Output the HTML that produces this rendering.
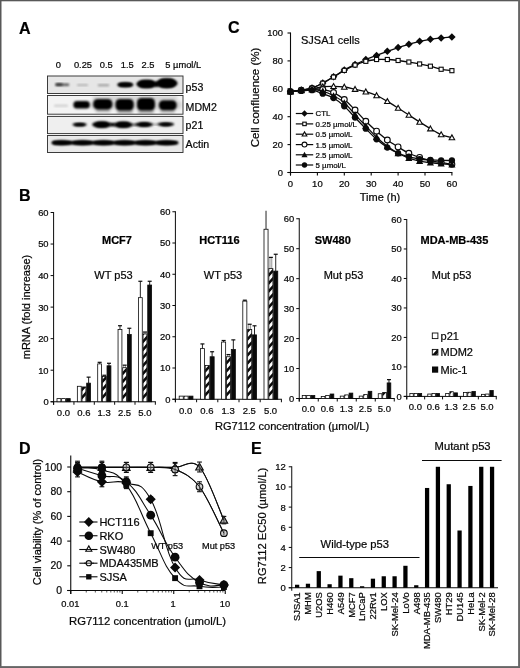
<!DOCTYPE html><html><head><meta charset="utf-8"><title>Figure</title><style>html,body{margin:0;padding:0;background:#fff}svg{display:block}text{font-family:"Liberation Sans",Arial,Helvetica,sans-serif;stroke:#000;stroke-width:.22px}</style></head><body>
<svg width="520" height="668" viewBox="0 0 520 668">
<defs><filter id="bl" x="-20%" y="-50%" width="140%" height="200%"><feGaussianBlur stdDeviation="0.9"/></filter><filter id="bl2" x="-20%" y="-50%" width="140%" height="200%"><feGaussianBlur stdDeviation="1.6"/></filter><pattern id="hat" width="5.7" height="5.7" patternUnits="userSpaceOnUse" patternTransform="rotate(-48)"><rect width="5.7" height="5.7" fill="#fff"/><rect width="5.7" height="3.1" fill="#0a0a0a"/></pattern></defs>
<rect width="520" height="668" fill="#fff"/>
<rect x="0" y="0" width="520" height="1.3" fill="#585858"/>
<rect x="0" y="0" width="1.5" height="668" fill="#585858"/>
<rect x="518.1" y="0" width="1.9" height="668" fill="#666"/>
<rect x="0" y="666.1" width="520" height="1.9" fill="#666"/>
<text transform="translate(19.1 33.5) scale(0.97 1)" font-size="16.6" font-weight="bold" fill="#000" stroke="#000" stroke-width="0.5" stroke-linejoin="round">A</text>
<text transform="translate(18.9 201.4) scale(0.97 1)" font-size="16.6" font-weight="bold" fill="#000" stroke="#000" stroke-width="0.5" stroke-linejoin="round">B</text>
<text transform="translate(227.9 33.2) scale(0.97 1)" font-size="16.6" font-weight="bold" fill="#000" stroke="#000" stroke-width="0.5" stroke-linejoin="round">C</text>
<text transform="translate(18.9 454.2) scale(0.97 1)" font-size="16.6" font-weight="bold" fill="#000" stroke="#000" stroke-width="0.5" stroke-linejoin="round">D</text>
<text transform="translate(251 454.4) scale(0.97 1)" font-size="16.6" font-weight="bold" fill="#000" stroke="#000" stroke-width="0.5" stroke-linejoin="round">E</text>
<text x="58.4" y="68.2" font-size="9.3" text-anchor="middle" stroke="none" fill="#0a0a0a">0</text>
<text x="83" y="68.2" font-size="9.3" text-anchor="middle" stroke="none" fill="#0a0a0a">0.25</text>
<text x="106.2" y="68.2" font-size="9.3" text-anchor="middle" stroke="none" fill="#0a0a0a">0.5</text>
<text x="127.2" y="68.2" font-size="9.3" text-anchor="middle" stroke="none" fill="#0a0a0a">1.5</text>
<text x="148" y="68.2" font-size="9.3" text-anchor="middle" stroke="none" fill="#0a0a0a">2.5</text>
<text x="165.3" y="68.2" font-size="9.3" text-anchor="start" stroke="none" fill="#0a0a0a">5 µmol/L</text>
<clipPath id="cA"><rect x="47.5" y="76" width="135.5" height="76.5"/></clipPath>
<rect x="47.50" y="76.00" width="135.50" height="17.50" fill="#e6e6e6"/>
<rect x="47.50" y="95.50" width="135.50" height="18.70" fill="#f3f3f3"/>
<rect x="47.50" y="116.40" width="135.50" height="17.20" fill="#efefef"/>
<rect x="47.50" y="135.50" width="135.50" height="17.00" fill="#eaeaea"/>
<g clip-path="url(#cA)">
<rect x="55.30" y="83.55" width="14.00" height="2.50" rx="1.25" fill="#000" opacity="0.62" filter="url(#bl)"/>
<rect x="55.50" y="83.25" width="7.00" height="2.50" rx="1.25" fill="#000" opacity="0.6" filter="url(#bl)"/>
<rect x="77.00" y="84.30" width="11.00" height="1.80" rx="0.90" fill="#000" opacity="0.25" filter="url(#bl)"/>
<rect x="97.75" y="84.20" width="11.50" height="2.00" rx="1.00" fill="#000" opacity="0.33" filter="url(#bl)"/>
<ellipse cx="125.30" cy="84.70" rx="8.25" ry="2.50" fill="#000" opacity="1" filter="url(#bl)"/>
<rect x="118.80" y="83.00" width="13.00" height="3.40" rx="1.70" fill="#000" opacity="1" filter="url(#bl)"/>
<ellipse cx="146.50" cy="84.00" rx="10.25" ry="4.30" fill="#000" opacity="1" filter="url(#bl)"/>
<rect x="139.00" y="80.70" width="15.00" height="6.60" rx="3.30" fill="#000" opacity="1" filter="url(#bl)"/>
<ellipse cx="166.80" cy="83.20" rx="10.75" ry="5.00" fill="#000" opacity="1" filter="url(#bl)"/>
<rect x="158.80" y="79.20" width="16.00" height="8.00" rx="4.00" fill="#000" opacity="1" filter="url(#bl)"/>
<rect x="153.50" y="81.70" width="6.00" height="5.00" rx="2.50" fill="#000" opacity="1" filter="url(#bl)"/>
<rect x="54.00" y="104.80" width="14.00" height="2.00" rx="1.00" fill="#000" opacity="0.16" filter="url(#bl)"/>
<rect x="73.35" y="101.10" width="16.50" height="7.40" rx="3.5" fill="#000" opacity="1" filter="url(#bl)"/>
<rect x="93.20" y="99.00" width="19.20" height="10.40" rx="4.5" fill="#000" opacity="1" filter="url(#bl)"/>
<rect x="115.45" y="99.00" width="18.30" height="11.60" rx="4.5" fill="#000" opacity="1" filter="url(#bl)"/>
<rect x="137.00" y="98.00" width="18.00" height="12.60" rx="4.5" fill="#000" opacity="1" filter="url(#bl)"/>
<rect x="158.90" y="100.20" width="17.80" height="10.00" rx="4.5" fill="#000" opacity="1" filter="url(#bl)"/>
<rect x="95.50" y="109.10" width="15.00" height="3.00" rx="1.50" fill="#000" opacity="0.3" filter="url(#bl2)"/>
<rect x="117.00" y="109.90" width="16.00" height="3.00" rx="1.50" fill="#000" opacity="0.4" filter="url(#bl2)"/>
<rect x="138.00" y="109.90" width="16.00" height="3.00" rx="1.50" fill="#000" opacity="0.4" filter="url(#bl2)"/>
<rect x="160.00" y="109.70" width="15.00" height="3.00" rx="1.50" fill="#000" opacity="0.3" filter="url(#bl2)"/>
<rect x="92.50" y="96.50" width="85.00" height="3.00" rx="1.50" fill="#000" opacity="0.16" filter="url(#bl2)"/>
<rect x="90.00" y="100.50" width="92.00" height="9.00" rx="4.50" fill="#000" opacity="0.13" filter="url(#bl2)"/>
<ellipse cx="79.60" cy="124.60" rx="7.25" ry="1.90" fill="#000" opacity="1" filter="url(#bl)"/>
<rect x="75.10" y="123.60" width="9.00" height="2.00" rx="1.00" fill="#000" opacity="1" filter="url(#bl)"/>
<ellipse cx="101.80" cy="124.60" rx="9.75" ry="3.30" fill="#000" opacity="1" filter="url(#bl)"/>
<ellipse cx="123.30" cy="124.70" rx="9.75" ry="3.20" fill="#000" opacity="1" filter="url(#bl)"/>
<rect x="109.50" y="123.10" width="6.00" height="3.20" rx="1.60" fill="#000" opacity="1" filter="url(#bl)"/>
<ellipse cx="144.20" cy="124.50" rx="9.00" ry="2.60" fill="#000" opacity="1" filter="url(#bl)"/>
<ellipse cx="165.80" cy="124.30" rx="8.50" ry="2.10" fill="#000" opacity="1" filter="url(#bl)"/>
<rect x="132.00" y="123.70" width="5.00" height="2.00" rx="1.00" fill="#000" opacity="0.7" filter="url(#bl)"/>
<rect x="153.00" y="123.65" width="5.00" height="1.50" rx="0.75" fill="#000" opacity="0.45" filter="url(#bl)"/>
<rect x="95.80" y="122.40" width="12.00" height="4.40" rx="2.20" fill="#000" opacity="1" filter="url(#bl)"/>
<rect x="117.30" y="122.60" width="12.00" height="4.20" rx="2.10" fill="#000" opacity="1" filter="url(#bl)"/>
<rect x="139.20" y="123.00" width="10.00" height="3.00" rx="1.50" fill="#000" opacity="1" filter="url(#bl)"/>
<rect x="161.30" y="123.20" width="9.00" height="2.20" rx="1.10" fill="#000" opacity="1" filter="url(#bl)"/>
<rect x="52.50" y="140.90" width="126.00" height="3.60" rx="1.80" fill="#000" opacity="1" filter="url(#bl)"/>
<ellipse cx="61.50" cy="142.70" rx="10.25" ry="2.50" fill="#000" opacity="1" filter="url(#bl)"/>
<ellipse cx="82.50" cy="142.70" rx="10.25" ry="2.50" fill="#000" opacity="1" filter="url(#bl)"/>
<ellipse cx="103.50" cy="142.70" rx="10.25" ry="2.50" fill="#000" opacity="1" filter="url(#bl)"/>
<ellipse cx="124.50" cy="142.70" rx="10.25" ry="2.50" fill="#000" opacity="1" filter="url(#bl)"/>
<ellipse cx="145.50" cy="142.70" rx="10.25" ry="2.50" fill="#000" opacity="1" filter="url(#bl)"/>
<ellipse cx="166.50" cy="142.70" rx="10.25" ry="2.50" fill="#000" opacity="1" filter="url(#bl)"/>
</g>
<rect x="47.50" y="76.00" width="135.50" height="17.50" fill="none" stroke="#333" stroke-width="0.95"/>
<rect x="47.50" y="95.50" width="135.50" height="18.70" fill="none" stroke="#333" stroke-width="0.95"/>
<rect x="47.50" y="116.40" width="135.50" height="17.20" fill="none" stroke="#333" stroke-width="0.95"/>
<rect x="47.50" y="135.50" width="135.50" height="17.00" fill="none" stroke="#333" stroke-width="0.95"/>
<text x="185.6" y="91.4" font-size="10.6" text-anchor="start" fill="#0a0a0a">p53</text>
<text x="185.6" y="110.8" font-size="10.6" text-anchor="start" fill="#0a0a0a">MDM2</text>
<text x="185.6" y="129.4" font-size="10.6" text-anchor="start" fill="#0a0a0a">p21</text>
<text x="185.6" y="148" font-size="10.6" text-anchor="start" fill="#0a0a0a">Actin</text>
<line x1="290.50" y1="32.50" x2="290.50" y2="175.50" stroke="#0a0a0a" stroke-width="1.1"/>
<line x1="287.50" y1="172.50" x2="452.40" y2="172.50" stroke="#0a0a0a" stroke-width="1.1"/>
<line x1="287.50" y1="172.50" x2="290.50" y2="172.50" stroke="#0a0a0a" stroke-width="1.1"/>
<text x="282.9" y="175.9" font-size="9.4" text-anchor="end" stroke="none" fill="#0a0a0a">0</text>
<line x1="287.50" y1="144.60" x2="290.50" y2="144.60" stroke="#0a0a0a" stroke-width="1.1"/>
<text x="282.9" y="148.0" font-size="9.4" text-anchor="end" stroke="none" fill="#0a0a0a">20</text>
<line x1="287.50" y1="116.70" x2="290.50" y2="116.70" stroke="#0a0a0a" stroke-width="1.1"/>
<text x="282.9" y="120.10000000000001" font-size="9.4" text-anchor="end" stroke="none" fill="#0a0a0a">40</text>
<line x1="287.50" y1="88.80" x2="290.50" y2="88.80" stroke="#0a0a0a" stroke-width="1.1"/>
<text x="282.9" y="92.2" font-size="9.4" text-anchor="end" stroke="none" fill="#0a0a0a">60</text>
<line x1="287.50" y1="60.90" x2="290.50" y2="60.90" stroke="#0a0a0a" stroke-width="1.1"/>
<text x="282.9" y="64.30000000000001" font-size="9.4" text-anchor="end" stroke="none" fill="#0a0a0a">80</text>
<line x1="287.50" y1="33.00" x2="290.50" y2="33.00" stroke="#0a0a0a" stroke-width="1.1"/>
<text x="282.9" y="36.4" font-size="9.4" text-anchor="end" stroke="none" fill="#0a0a0a">100</text>
<line x1="290.50" y1="172.50" x2="290.50" y2="175.50" stroke="#0a0a0a" stroke-width="1.1"/>
<text x="290.5" y="187.2" font-size="9.5" text-anchor="middle" stroke="none" fill="#0a0a0a">0</text>
<line x1="317.40" y1="172.50" x2="317.40" y2="175.50" stroke="#0a0a0a" stroke-width="1.1"/>
<text x="317.4" y="187.2" font-size="9.5" text-anchor="middle" stroke="none" fill="#0a0a0a">10</text>
<line x1="344.30" y1="172.50" x2="344.30" y2="175.50" stroke="#0a0a0a" stroke-width="1.1"/>
<text x="344.3" y="187.2" font-size="9.5" text-anchor="middle" stroke="none" fill="#0a0a0a">20</text>
<line x1="371.20" y1="172.50" x2="371.20" y2="175.50" stroke="#0a0a0a" stroke-width="1.1"/>
<text x="371.2" y="187.2" font-size="9.5" text-anchor="middle" stroke="none" fill="#0a0a0a">30</text>
<line x1="398.10" y1="172.50" x2="398.10" y2="175.50" stroke="#0a0a0a" stroke-width="1.1"/>
<text x="398.1" y="187.2" font-size="9.5" text-anchor="middle" stroke="none" fill="#0a0a0a">40</text>
<line x1="425.00" y1="172.50" x2="425.00" y2="175.50" stroke="#0a0a0a" stroke-width="1.1"/>
<text x="425.0" y="187.2" font-size="9.5" text-anchor="middle" stroke="none" fill="#0a0a0a">50</text>
<line x1="451.90" y1="172.50" x2="451.90" y2="175.50" stroke="#0a0a0a" stroke-width="1.1"/>
<text x="451.9" y="187.2" font-size="9.5" text-anchor="middle" stroke="none" fill="#0a0a0a">60</text>
<text x="380" y="201" font-size="11" text-anchor="middle" fill="#0a0a0a">Time (h)</text>
<text x="259" y="97.5" font-size="11.5" text-anchor="middle" transform="rotate(-90 259 97.5)" fill="#0a0a0a">Cell confluence (%)</text>
<text x="301" y="43.8" font-size="11" text-anchor="start" fill="#0a0a0a">SJSA1 cells</text>
<path d="M290.50 91.59C292.29 91.36 297.67 90.78 301.26 90.19C304.85 89.61 308.43 89.31 312.02 88.10C315.61 86.89 319.19 84.82 322.78 82.94C326.37 81.06 329.95 78.97 333.54 76.80C337.13 74.64 340.71 72.01 344.30 69.97C347.89 67.92 351.47 66.27 355.06 64.53C358.65 62.78 362.23 61.02 365.82 59.50C369.41 57.99 372.99 56.83 376.58 55.46C380.17 54.09 383.75 52.60 387.34 51.27C390.93 49.95 394.51 48.67 398.10 47.51C401.69 46.35 405.27 45.32 408.86 44.30C412.45 43.28 416.03 42.21 419.62 41.37C423.21 40.53 426.79 39.86 430.38 39.28C433.97 38.70 437.55 38.28 441.14 37.88C444.73 37.49 450.11 37.07 451.90 36.91" fill="none" stroke="#0a0a0a" stroke-width="1.3"/>
<path d="M290.50 87.84L294.25 91.59L290.50 95.34L286.75 91.59Z" fill="#0a0a0a"/>
<path d="M301.26 86.44L305.01 90.19L301.26 93.94L297.51 90.19Z" fill="#0a0a0a"/>
<path d="M312.02 84.35L315.77 88.10L312.02 91.85L308.27 88.10Z" fill="#0a0a0a"/>
<path d="M322.78 79.19L326.53 82.94L322.78 86.69L319.03 82.94Z" fill="#0a0a0a"/>
<path d="M333.54 73.05L337.29 76.80L333.54 80.55L329.79 76.80Z" fill="#0a0a0a"/>
<path d="M344.30 66.22L348.05 69.97L344.30 73.72L340.55 69.97Z" fill="#0a0a0a"/>
<path d="M355.06 60.78L358.81 64.53L355.06 68.28L351.31 64.53Z" fill="#0a0a0a"/>
<path d="M365.82 55.75L369.57 59.50L365.82 63.25L362.07 59.50Z" fill="#0a0a0a"/>
<path d="M376.58 51.71L380.33 55.46L376.58 59.21L372.83 55.46Z" fill="#0a0a0a"/>
<path d="M387.34 47.52L391.09 51.27L387.34 55.02L383.59 51.27Z" fill="#0a0a0a"/>
<path d="M398.10 43.76L401.85 47.51L398.10 51.26L394.35 47.51Z" fill="#0a0a0a"/>
<path d="M408.86 40.55L412.61 44.30L408.86 48.05L405.11 44.30Z" fill="#0a0a0a"/>
<path d="M419.62 37.62L423.37 41.37L419.62 45.12L415.87 41.37Z" fill="#0a0a0a"/>
<path d="M430.38 35.53L434.13 39.28L430.38 43.03L426.63 39.28Z" fill="#0a0a0a"/>
<path d="M441.14 34.13L444.89 37.88L441.14 41.63L437.39 37.88Z" fill="#0a0a0a"/>
<path d="M451.90 33.16L455.65 36.91L451.90 40.66L448.15 36.91Z" fill="#0a0a0a"/>
<path d="M290.50 91.59C292.29 91.36 297.67 90.78 301.26 90.19C304.85 89.61 308.43 89.26 312.02 88.10C315.61 86.94 319.19 85.06 322.78 83.22C326.37 81.38 329.95 79.22 333.54 77.08C337.13 74.94 340.71 72.39 344.30 70.39C347.89 68.39 351.47 66.60 355.06 65.08C358.65 63.57 362.23 62.25 365.82 61.32C369.41 60.39 372.99 59.81 376.58 59.50C380.17 59.20 383.75 59.34 387.34 59.50C390.93 59.67 394.51 60.06 398.10 60.48C401.69 60.90 405.27 61.43 408.86 62.02C412.45 62.60 416.03 63.27 419.62 63.97C423.21 64.67 426.79 65.32 430.38 66.20C433.97 67.08 437.55 68.53 441.14 69.27C444.73 70.01 450.11 70.43 451.90 70.66" fill="none" stroke="#0a0a0a" stroke-width="1.3"/>
<rect x="288.45" y="89.54" width="4.10" height="4.10" fill="#fff" stroke="#0a0a0a" stroke-width="1.1"/>
<rect x="299.21" y="88.14" width="4.10" height="4.10" fill="#fff" stroke="#0a0a0a" stroke-width="1.1"/>
<rect x="309.97" y="86.05" width="4.10" height="4.10" fill="#fff" stroke="#0a0a0a" stroke-width="1.1"/>
<rect x="320.73" y="81.17" width="4.10" height="4.10" fill="#fff" stroke="#0a0a0a" stroke-width="1.1"/>
<rect x="331.49" y="75.03" width="4.10" height="4.10" fill="#fff" stroke="#0a0a0a" stroke-width="1.1"/>
<rect x="342.25" y="68.34" width="4.10" height="4.10" fill="#fff" stroke="#0a0a0a" stroke-width="1.1"/>
<rect x="353.01" y="63.03" width="4.10" height="4.10" fill="#fff" stroke="#0a0a0a" stroke-width="1.1"/>
<rect x="363.77" y="59.27" width="4.10" height="4.10" fill="#fff" stroke="#0a0a0a" stroke-width="1.1"/>
<rect x="374.53" y="57.45" width="4.10" height="4.10" fill="#fff" stroke="#0a0a0a" stroke-width="1.1"/>
<rect x="385.29" y="57.45" width="4.10" height="4.10" fill="#fff" stroke="#0a0a0a" stroke-width="1.1"/>
<rect x="396.05" y="58.43" width="4.10" height="4.10" fill="#fff" stroke="#0a0a0a" stroke-width="1.1"/>
<rect x="406.81" y="59.97" width="4.10" height="4.10" fill="#fff" stroke="#0a0a0a" stroke-width="1.1"/>
<rect x="417.57" y="61.92" width="4.10" height="4.10" fill="#fff" stroke="#0a0a0a" stroke-width="1.1"/>
<rect x="428.33" y="64.15" width="4.10" height="4.10" fill="#fff" stroke="#0a0a0a" stroke-width="1.1"/>
<rect x="439.09" y="67.22" width="4.10" height="4.10" fill="#fff" stroke="#0a0a0a" stroke-width="1.1"/>
<rect x="449.85" y="68.61" width="4.10" height="4.10" fill="#fff" stroke="#0a0a0a" stroke-width="1.1"/>
<path d="M290.50 91.59C292.29 91.36 297.67 90.66 301.26 90.19C304.85 89.73 308.43 89.38 312.02 88.80C315.61 88.22 319.19 87.13 322.78 86.71C326.37 86.29 329.95 86.24 333.54 86.29C337.13 86.34 340.71 86.50 344.30 86.99C347.89 87.47 351.47 88.43 355.06 89.22C358.65 90.01 362.23 90.68 365.82 91.73C369.41 92.78 372.99 93.89 376.58 95.50C380.17 97.10 383.75 99.26 387.34 101.36C390.93 103.45 394.51 105.77 398.10 108.05C401.69 110.33 405.27 112.70 408.86 115.03C412.45 117.35 416.03 119.72 419.62 122.00C423.21 124.28 426.79 126.60 430.38 128.70C433.97 130.79 437.55 133.07 441.14 134.56C444.73 136.04 450.11 137.11 451.90 137.62" fill="none" stroke="#0a0a0a" stroke-width="1.3"/>
<path d="M290.50 88.84L293.25 93.79L287.75 93.79Z" fill="#fff" stroke="#0a0a0a" stroke-width="1.1" stroke-linejoin="miter"/>
<path d="M301.26 87.44L304.01 92.39L298.51 92.39Z" fill="#fff" stroke="#0a0a0a" stroke-width="1.1" stroke-linejoin="miter"/>
<path d="M312.02 86.05L314.77 91.00L309.27 91.00Z" fill="#fff" stroke="#0a0a0a" stroke-width="1.1" stroke-linejoin="miter"/>
<path d="M322.78 83.96L325.53 88.91L320.03 88.91Z" fill="#fff" stroke="#0a0a0a" stroke-width="1.1" stroke-linejoin="miter"/>
<path d="M333.54 83.54L336.29 88.49L330.79 88.49Z" fill="#fff" stroke="#0a0a0a" stroke-width="1.1" stroke-linejoin="miter"/>
<path d="M344.30 84.24L347.05 89.19L341.55 89.19Z" fill="#fff" stroke="#0a0a0a" stroke-width="1.1" stroke-linejoin="miter"/>
<path d="M355.06 86.47L357.81 91.42L352.31 91.42Z" fill="#fff" stroke="#0a0a0a" stroke-width="1.1" stroke-linejoin="miter"/>
<path d="M365.82 88.98L368.57 93.93L363.07 93.93Z" fill="#fff" stroke="#0a0a0a" stroke-width="1.1" stroke-linejoin="miter"/>
<path d="M376.58 92.75L379.33 97.70L373.83 97.70Z" fill="#fff" stroke="#0a0a0a" stroke-width="1.1" stroke-linejoin="miter"/>
<path d="M387.34 98.61L390.09 103.56L384.59 103.56Z" fill="#fff" stroke="#0a0a0a" stroke-width="1.1" stroke-linejoin="miter"/>
<path d="M398.10 105.30L400.85 110.25L395.35 110.25Z" fill="#fff" stroke="#0a0a0a" stroke-width="1.1" stroke-linejoin="miter"/>
<path d="M408.86 112.28L411.61 117.23L406.11 117.23Z" fill="#fff" stroke="#0a0a0a" stroke-width="1.1" stroke-linejoin="miter"/>
<path d="M419.62 119.25L422.37 124.20L416.87 124.20Z" fill="#fff" stroke="#0a0a0a" stroke-width="1.1" stroke-linejoin="miter"/>
<path d="M430.38 125.95L433.13 130.90L427.63 130.90Z" fill="#fff" stroke="#0a0a0a" stroke-width="1.1" stroke-linejoin="miter"/>
<path d="M441.14 131.81L443.89 136.76L438.39 136.76Z" fill="#fff" stroke="#0a0a0a" stroke-width="1.1" stroke-linejoin="miter"/>
<path d="M451.90 134.88L454.65 139.82L449.15 139.82Z" fill="#fff" stroke="#0a0a0a" stroke-width="1.1" stroke-linejoin="miter"/>
<path d="M290.50 91.59C292.29 91.36 297.67 90.66 301.26 90.19C304.85 89.73 308.43 88.92 312.02 88.80C315.61 88.68 319.19 88.87 322.78 89.50C326.37 90.13 329.95 90.89 333.54 92.57C337.13 94.24 340.71 96.64 344.30 99.54C347.89 102.45 351.47 106.38 355.06 110.00C358.65 113.63 362.23 117.77 365.82 121.30C369.41 124.84 372.99 128.09 376.58 131.21C380.17 134.32 383.75 137.37 387.34 140.00C390.93 142.62 394.51 144.76 398.10 146.97C401.69 149.18 405.27 151.51 408.86 153.25C412.45 154.99 416.03 156.18 419.62 157.43C423.21 158.69 426.79 159.95 430.38 160.78C433.97 161.62 437.55 161.87 441.14 162.46C444.73 163.04 450.11 163.97 451.90 164.27" fill="none" stroke="#0a0a0a" stroke-width="1.3"/>
<circle cx="290.50" cy="91.59" r="2.90" fill="#fff" stroke="#0a0a0a" stroke-width="1.1"/>
<circle cx="301.26" cy="90.19" r="2.90" fill="#fff" stroke="#0a0a0a" stroke-width="1.1"/>
<circle cx="312.02" cy="88.80" r="2.90" fill="#fff" stroke="#0a0a0a" stroke-width="1.1"/>
<circle cx="322.78" cy="89.50" r="2.90" fill="#fff" stroke="#0a0a0a" stroke-width="1.1"/>
<circle cx="333.54" cy="92.57" r="2.90" fill="#fff" stroke="#0a0a0a" stroke-width="1.1"/>
<circle cx="344.30" cy="99.54" r="2.90" fill="#fff" stroke="#0a0a0a" stroke-width="1.1"/>
<circle cx="355.06" cy="110.00" r="2.90" fill="#fff" stroke="#0a0a0a" stroke-width="1.1"/>
<circle cx="365.82" cy="121.30" r="2.90" fill="#fff" stroke="#0a0a0a" stroke-width="1.1"/>
<circle cx="376.58" cy="131.21" r="2.90" fill="#fff" stroke="#0a0a0a" stroke-width="1.1"/>
<circle cx="387.34" cy="140.00" r="2.90" fill="#fff" stroke="#0a0a0a" stroke-width="1.1"/>
<circle cx="398.10" cy="146.97" r="2.90" fill="#fff" stroke="#0a0a0a" stroke-width="1.1"/>
<circle cx="408.86" cy="153.25" r="2.90" fill="#fff" stroke="#0a0a0a" stroke-width="1.1"/>
<circle cx="419.62" cy="157.43" r="2.90" fill="#fff" stroke="#0a0a0a" stroke-width="1.1"/>
<circle cx="430.38" cy="160.78" r="2.90" fill="#fff" stroke="#0a0a0a" stroke-width="1.1"/>
<circle cx="441.14" cy="162.46" r="2.90" fill="#fff" stroke="#0a0a0a" stroke-width="1.1"/>
<circle cx="451.90" cy="164.27" r="2.90" fill="#fff" stroke="#0a0a0a" stroke-width="1.1"/>
<path d="M290.50 91.59C292.29 91.40 297.67 90.82 301.26 90.47C304.85 90.13 308.43 89.38 312.02 89.50C315.61 89.61 319.19 90.13 322.78 91.17C326.37 92.22 329.95 93.85 333.54 95.78C337.13 97.70 340.71 99.61 344.30 102.75C347.89 105.89 351.47 110.72 355.06 114.61C358.65 118.49 362.23 122.28 365.82 126.05C369.41 129.81 372.99 133.84 376.58 137.21C380.17 140.58 383.75 143.60 387.34 146.27C390.93 148.95 394.51 151.27 398.10 153.25C401.69 155.23 405.27 156.83 408.86 158.13C412.45 159.43 416.03 160.29 419.62 161.06C423.21 161.83 426.79 162.29 430.38 162.74C433.97 163.18 437.55 163.41 441.14 163.71C444.73 164.01 450.11 164.41 451.90 164.55" fill="none" stroke="#0a0a0a" stroke-width="1.3"/>
<path d="M290.50 87.99L294.10 94.47L286.90 94.47Z" fill="#0a0a0a"/>
<path d="M301.26 86.87L304.86 93.35L297.66 93.35Z" fill="#0a0a0a"/>
<path d="M312.02 85.90L315.62 92.38L308.42 92.38Z" fill="#0a0a0a"/>
<path d="M322.78 87.57L326.38 94.05L319.18 94.05Z" fill="#0a0a0a"/>
<path d="M333.54 92.18L337.14 98.66L329.94 98.66Z" fill="#0a0a0a"/>
<path d="M344.30 99.15L347.90 105.63L340.70 105.63Z" fill="#0a0a0a"/>
<path d="M355.06 111.01L358.66 117.49L351.46 117.49Z" fill="#0a0a0a"/>
<path d="M365.82 122.45L369.42 128.93L362.22 128.93Z" fill="#0a0a0a"/>
<path d="M376.58 133.61L380.18 140.09L372.98 140.09Z" fill="#0a0a0a"/>
<path d="M387.34 142.67L390.94 149.15L383.74 149.15Z" fill="#0a0a0a"/>
<path d="M398.10 149.65L401.70 156.13L394.50 156.13Z" fill="#0a0a0a"/>
<path d="M408.86 154.53L412.46 161.01L405.26 161.01Z" fill="#0a0a0a"/>
<path d="M419.62 157.46L423.22 163.94L416.02 163.94Z" fill="#0a0a0a"/>
<path d="M430.38 159.14L433.98 165.62L426.78 165.62Z" fill="#0a0a0a"/>
<path d="M441.14 160.11L444.74 166.59L437.54 166.59Z" fill="#0a0a0a"/>
<path d="M451.90 160.95L455.50 167.43L448.30 167.43Z" fill="#0a0a0a"/>
<path d="M290.50 91.59C292.29 91.47 297.67 91.12 301.26 90.89C304.85 90.66 308.43 89.73 312.02 90.19C315.61 90.66 319.19 92.38 322.78 93.68C326.37 94.98 329.95 95.91 333.54 98.01C337.13 100.10 340.71 102.98 344.30 106.24C347.89 109.49 351.47 113.79 355.06 117.54C358.65 121.28 362.23 125.07 365.82 128.70C369.41 132.32 372.99 136.16 376.58 139.30C380.17 142.44 383.75 145.20 387.34 147.53C390.93 149.85 394.51 151.71 398.10 153.25C401.69 154.78 405.27 155.74 408.86 156.74C412.45 157.74 416.03 158.71 419.62 159.25C423.21 159.78 426.79 159.76 430.38 159.94C433.97 160.13 437.55 160.27 441.14 160.36C444.73 160.46 450.11 160.48 451.90 160.50" fill="none" stroke="#0a0a0a" stroke-width="1.3"/>
<circle cx="290.50" cy="91.59" r="3.15" fill="#0a0a0a"/>
<circle cx="301.26" cy="90.89" r="3.15" fill="#0a0a0a"/>
<circle cx="312.02" cy="90.19" r="3.15" fill="#0a0a0a"/>
<circle cx="322.78" cy="93.68" r="3.15" fill="#0a0a0a"/>
<circle cx="333.54" cy="98.01" r="3.15" fill="#0a0a0a"/>
<circle cx="344.30" cy="106.24" r="3.15" fill="#0a0a0a"/>
<circle cx="355.06" cy="117.54" r="3.15" fill="#0a0a0a"/>
<circle cx="365.82" cy="128.70" r="3.15" fill="#0a0a0a"/>
<circle cx="376.58" cy="139.30" r="3.15" fill="#0a0a0a"/>
<circle cx="387.34" cy="147.53" r="3.15" fill="#0a0a0a"/>
<circle cx="398.10" cy="153.25" r="3.15" fill="#0a0a0a"/>
<circle cx="408.86" cy="156.74" r="3.15" fill="#0a0a0a"/>
<circle cx="419.62" cy="159.25" r="3.15" fill="#0a0a0a"/>
<circle cx="430.38" cy="159.94" r="3.15" fill="#0a0a0a"/>
<circle cx="441.14" cy="160.36" r="3.15" fill="#0a0a0a"/>
<circle cx="451.90" cy="160.50" r="3.15" fill="#0a0a0a"/>
<line x1="295.80" y1="113.50" x2="313.20" y2="113.50" stroke="#0a0a0a" stroke-width="1.2"/>
<path d="M304.50 110.31L307.69 113.50L304.50 116.69L301.31 113.50Z" fill="#0a0a0a"/>
<text x="315.5" y="116.4" font-size="7.9" text-anchor="start" stroke="none" fill="#0a0a0a">CTL</text>
<line x1="295.80" y1="123.90" x2="313.20" y2="123.90" stroke="#0a0a0a" stroke-width="1.2"/>
<rect x="302.76" y="122.16" width="3.48" height="3.48" fill="#fff" stroke="#0a0a0a" stroke-width="1.1"/>
<text x="315.5" y="126.80000000000001" font-size="7.9" text-anchor="start" stroke="none" fill="#0a0a0a">0.25 µmol/L</text>
<line x1="295.80" y1="134.20" x2="313.20" y2="134.20" stroke="#0a0a0a" stroke-width="1.2"/>
<path d="M304.50 131.86L306.84 136.07L302.16 136.07Z" fill="#fff" stroke="#0a0a0a" stroke-width="1.1" stroke-linejoin="miter"/>
<text x="315.5" y="137.1" font-size="7.9" text-anchor="start" stroke="none" fill="#0a0a0a">0.5 µmol/L</text>
<line x1="295.80" y1="144.60" x2="313.20" y2="144.60" stroke="#0a0a0a" stroke-width="1.2"/>
<circle cx="304.50" cy="144.60" r="2.46" fill="#fff" stroke="#0a0a0a" stroke-width="1.1"/>
<text x="315.5" y="147.5" font-size="7.9" text-anchor="start" stroke="none" fill="#0a0a0a">1.5 µmol/L</text>
<line x1="295.80" y1="154.80" x2="313.20" y2="154.80" stroke="#0a0a0a" stroke-width="1.2"/>
<path d="M304.50 151.74L307.56 157.25L301.44 157.25Z" fill="#0a0a0a"/>
<text x="315.5" y="157.70000000000002" font-size="7.9" text-anchor="start" stroke="none" fill="#0a0a0a">2.5 µmol/L</text>
<line x1="295.80" y1="165.00" x2="313.20" y2="165.00" stroke="#0a0a0a" stroke-width="1.2"/>
<circle cx="304.50" cy="165.00" r="2.68" fill="#0a0a0a"/>
<text x="315.5" y="167.9" font-size="7.9" text-anchor="start" stroke="none" fill="#0a0a0a">5 µmol/L</text>
<line x1="53.60" y1="212.00" x2="53.60" y2="404.75" stroke="#0a0a0a" stroke-width="1.0"/>
<line x1="50.60" y1="401.75" x2="155.85" y2="401.75" stroke="#0a0a0a" stroke-width="1.0"/>
<line x1="50.60" y1="401.75" x2="53.60" y2="401.75" stroke="#0a0a0a" stroke-width="1.0"/>
<text x="48.6" y="405.15" font-size="9.4" text-anchor="end" stroke="none" fill="#0a0a0a">0</text>
<line x1="50.60" y1="370.21" x2="53.60" y2="370.21" stroke="#0a0a0a" stroke-width="1.0"/>
<text x="48.6" y="373.6083333333333" font-size="9.4" text-anchor="end" stroke="none" fill="#0a0a0a">10</text>
<line x1="50.60" y1="338.67" x2="53.60" y2="338.67" stroke="#0a0a0a" stroke-width="1.0"/>
<text x="48.6" y="342.06666666666666" font-size="9.4" text-anchor="end" stroke="none" fill="#0a0a0a">20</text>
<line x1="50.60" y1="307.12" x2="53.60" y2="307.12" stroke="#0a0a0a" stroke-width="1.0"/>
<text x="48.6" y="310.525" font-size="9.4" text-anchor="end" stroke="none" fill="#0a0a0a">30</text>
<line x1="50.60" y1="275.58" x2="53.60" y2="275.58" stroke="#0a0a0a" stroke-width="1.0"/>
<text x="48.6" y="278.9833333333333" font-size="9.4" text-anchor="end" stroke="none" fill="#0a0a0a">40</text>
<line x1="50.60" y1="244.04" x2="53.60" y2="244.04" stroke="#0a0a0a" stroke-width="1.0"/>
<text x="48.6" y="247.44166666666666" font-size="9.4" text-anchor="end" stroke="none" fill="#0a0a0a">50</text>
<line x1="50.60" y1="212.50" x2="53.60" y2="212.50" stroke="#0a0a0a" stroke-width="1.0"/>
<text x="48.6" y="215.9" font-size="9.4" text-anchor="end" stroke="none" fill="#0a0a0a">60</text>
<line x1="53.60" y1="401.75" x2="53.60" y2="404.75" stroke="#0a0a0a" stroke-width="1.0"/>
<line x1="73.95" y1="401.75" x2="73.95" y2="404.75" stroke="#0a0a0a" stroke-width="1.0"/>
<line x1="94.30" y1="401.75" x2="94.30" y2="404.75" stroke="#0a0a0a" stroke-width="1.0"/>
<line x1="114.65" y1="401.75" x2="114.65" y2="404.75" stroke="#0a0a0a" stroke-width="1.0"/>
<line x1="135.00" y1="401.75" x2="135.00" y2="404.75" stroke="#0a0a0a" stroke-width="1.0"/>
<line x1="155.35" y1="401.75" x2="155.35" y2="404.75" stroke="#0a0a0a" stroke-width="1.0"/>
<text x="63.47500000000001" y="416.0" font-size="9.5" text-anchor="middle" stroke="none" fill="#0a0a0a">0.0</text>
<text x="83.825" y="416.0" font-size="9.5" text-anchor="middle" stroke="none" fill="#0a0a0a">0.6</text>
<text x="104.175" y="416.0" font-size="9.5" text-anchor="middle" stroke="none" fill="#0a0a0a">1.3</text>
<text x="124.52500000000002" y="416.0" font-size="9.5" text-anchor="middle" stroke="none" fill="#0a0a0a">2.5</text>
<text x="144.875" y="416.0" font-size="9.5" text-anchor="middle" stroke="none" fill="#0a0a0a">5.0</text>
<rect x="57.00" y="398.60" width="3.87" height="3.15" fill="#fff" stroke="#0a0a0a" stroke-width="0.8"/>
<rect x="61.67" y="398.60" width="3.87" height="3.15" fill="#fff"/>
<path d="M61.67 399.55L62.53 398.60L61.67 398.60Z" fill="#0a0a0a"/>
<rect x="61.67" y="398.60" width="3.87" height="3.15" fill="none" stroke="#0a0a0a" stroke-width="0.8"/>
<rect x="66.34" y="398.60" width="3.87" height="3.15" fill="#0a0a0a" stroke="#0a0a0a" stroke-width="0.8"/>
<rect x="77.35" y="386.29" width="3.87" height="15.46" fill="#fff" stroke="#0a0a0a" stroke-width="0.8"/>
<rect x="82.02" y="386.93" width="3.87" height="14.82" fill="#fff"/>
<path d="M82.02 399.55L85.89 395.25L85.89 391.35L82.02 395.65ZM82.02 391.55L85.89 387.25L85.89 386.93L82.67 386.93L82.02 387.65Z" fill="#0a0a0a"/>
<rect x="82.02" y="386.93" width="3.87" height="14.82" fill="none" stroke="#0a0a0a" stroke-width="0.8"/>
<line x1="88.62" y1="383.14" x2="88.62" y2="377.15" stroke="#0a0a0a" stroke-width="0.9"/>
<line x1="86.62" y1="377.15" x2="90.62" y2="377.15" stroke="#0a0a0a" stroke-width="1.2"/>
<rect x="86.69" y="383.14" width="3.87" height="18.61" fill="#0a0a0a" stroke="#0a0a0a" stroke-width="0.8"/>
<line x1="99.64" y1="363.90" x2="99.64" y2="362.32" stroke="#0a0a0a" stroke-width="0.9"/>
<line x1="97.64" y1="362.32" x2="101.64" y2="362.32" stroke="#0a0a0a" stroke-width="1.2"/>
<rect x="97.70" y="363.90" width="3.87" height="37.85" fill="#fff" stroke="#0a0a0a" stroke-width="0.8"/>
<line x1="103.41" y1="376.52" x2="103.41" y2="375.25" stroke="#444" stroke-width="0.6"/>
<line x1="105.21" y1="376.52" x2="105.21" y2="375.25" stroke="#444" stroke-width="0.6"/>
<line x1="102.31" y1="375.25" x2="106.31" y2="375.25" stroke="#0a0a0a" stroke-width="1.2"/>
<rect x="102.37" y="376.52" width="3.87" height="25.23" fill="#fff"/>
<path d="M102.37 399.55L106.24 395.25L106.24 391.35L102.37 395.65ZM102.37 391.55L106.24 387.25L106.24 383.35L102.37 387.65ZM102.37 383.55L106.24 379.25L106.24 376.52L105.19 376.52L102.37 379.65Z" fill="#0a0a0a"/>
<rect x="102.37" y="376.52" width="3.87" height="25.23" fill="none" stroke="#0a0a0a" stroke-width="0.8"/>
<line x1="108.98" y1="365.79" x2="108.98" y2="363.27" stroke="#0a0a0a" stroke-width="0.9"/>
<line x1="106.98" y1="363.27" x2="110.98" y2="363.27" stroke="#0a0a0a" stroke-width="1.2"/>
<rect x="107.04" y="365.79" width="3.87" height="35.96" fill="#0a0a0a" stroke="#0a0a0a" stroke-width="0.8"/>
<line x1="119.98" y1="329.52" x2="119.98" y2="325.73" stroke="#0a0a0a" stroke-width="0.9"/>
<line x1="117.98" y1="325.73" x2="121.98" y2="325.73" stroke="#0a0a0a" stroke-width="1.2"/>
<rect x="118.05" y="329.52" width="3.87" height="72.23" fill="#fff" stroke="#0a0a0a" stroke-width="0.8"/>
<line x1="123.75" y1="367.69" x2="123.75" y2="365.16" stroke="#444" stroke-width="0.6"/>
<line x1="125.56" y1="367.69" x2="125.56" y2="365.16" stroke="#444" stroke-width="0.6"/>
<line x1="122.66" y1="365.16" x2="126.66" y2="365.16" stroke="#0a0a0a" stroke-width="1.2"/>
<rect x="122.72" y="367.69" width="3.87" height="34.06" fill="#fff"/>
<path d="M122.72 399.55L126.59 395.25L126.59 391.35L122.72 395.65ZM122.72 391.55L126.59 387.25L126.59 383.35L122.72 387.65ZM122.72 383.55L126.59 379.25L126.59 375.35L122.72 379.65ZM122.72 375.55L126.59 371.25L126.59 367.69L126.29 367.69L122.72 371.65Z" fill="#0a0a0a"/>
<rect x="122.72" y="367.69" width="3.87" height="34.06" fill="none" stroke="#0a0a0a" stroke-width="0.8"/>
<line x1="129.33" y1="334.57" x2="129.33" y2="328.26" stroke="#0a0a0a" stroke-width="0.9"/>
<line x1="127.33" y1="328.26" x2="131.33" y2="328.26" stroke="#0a0a0a" stroke-width="1.2"/>
<rect x="127.39" y="334.57" width="3.87" height="67.18" fill="#0a0a0a" stroke="#0a0a0a" stroke-width="0.8"/>
<line x1="140.34" y1="297.66" x2="140.34" y2="281.26" stroke="#0a0a0a" stroke-width="0.9"/>
<line x1="138.34" y1="281.26" x2="142.34" y2="281.26" stroke="#0a0a0a" stroke-width="1.2"/>
<rect x="138.40" y="297.66" width="3.87" height="104.09" fill="#fff" stroke="#0a0a0a" stroke-width="0.8"/>
<line x1="144.10" y1="333.94" x2="144.10" y2="332.04" stroke="#444" stroke-width="0.6"/>
<line x1="145.91" y1="333.94" x2="145.91" y2="332.04" stroke="#444" stroke-width="0.6"/>
<line x1="143.00" y1="332.04" x2="147.00" y2="332.04" stroke="#0a0a0a" stroke-width="1.2"/>
<rect x="143.07" y="333.94" width="3.87" height="67.81" fill="#fff"/>
<path d="M143.07 399.55L146.94 395.25L146.94 391.35L143.07 395.65ZM143.07 391.55L146.94 387.25L146.94 383.35L143.07 387.65ZM143.07 383.55L146.94 379.25L146.94 375.35L143.07 379.65ZM143.07 375.55L146.94 371.25L146.94 367.35L143.07 371.65ZM143.07 367.55L146.94 363.25L146.94 359.35L143.07 363.65ZM143.07 359.55L146.94 355.25L146.94 351.35L143.07 355.65ZM143.07 351.55L146.94 347.25L146.94 343.35L143.07 347.65ZM143.07 343.55L146.94 339.25L146.94 335.35L143.07 339.65ZM143.07 335.55L144.52 333.94L143.07 333.94Z" fill="#0a0a0a"/>
<rect x="143.07" y="333.94" width="3.87" height="67.81" fill="none" stroke="#0a0a0a" stroke-width="0.8"/>
<line x1="149.68" y1="285.05" x2="149.68" y2="281.26" stroke="#0a0a0a" stroke-width="0.9"/>
<line x1="147.68" y1="281.26" x2="151.68" y2="281.26" stroke="#0a0a0a" stroke-width="1.2"/>
<rect x="147.74" y="285.05" width="3.87" height="116.70" fill="#0a0a0a" stroke="#0a0a0a" stroke-width="0.8"/>
<text x="117" y="244.3" font-size="11" text-anchor="middle" font-weight="bold" stroke="none" fill="#000">MCF7</text>
<text x="113.5" y="278.6" font-size="11" text-anchor="middle" fill="#0a0a0a">WT p53</text>
<line x1="175.40" y1="211.25" x2="175.40" y2="402.25" stroke="#0a0a0a" stroke-width="1.0"/>
<line x1="172.40" y1="399.25" x2="281.90" y2="399.25" stroke="#0a0a0a" stroke-width="1.0"/>
<line x1="172.40" y1="399.25" x2="175.40" y2="399.25" stroke="#0a0a0a" stroke-width="1.0"/>
<text x="170.4" y="402.65" font-size="9.4" text-anchor="end" stroke="none" fill="#0a0a0a">0</text>
<line x1="172.40" y1="368.00" x2="175.40" y2="368.00" stroke="#0a0a0a" stroke-width="1.0"/>
<text x="170.4" y="371.4" font-size="9.4" text-anchor="end" stroke="none" fill="#0a0a0a">10</text>
<line x1="172.40" y1="336.75" x2="175.40" y2="336.75" stroke="#0a0a0a" stroke-width="1.0"/>
<text x="170.4" y="340.15" font-size="9.4" text-anchor="end" stroke="none" fill="#0a0a0a">20</text>
<line x1="172.40" y1="305.50" x2="175.40" y2="305.50" stroke="#0a0a0a" stroke-width="1.0"/>
<text x="170.4" y="308.9" font-size="9.4" text-anchor="end" stroke="none" fill="#0a0a0a">30</text>
<line x1="172.40" y1="274.25" x2="175.40" y2="274.25" stroke="#0a0a0a" stroke-width="1.0"/>
<text x="170.4" y="277.65" font-size="9.4" text-anchor="end" stroke="none" fill="#0a0a0a">40</text>
<line x1="172.40" y1="243.00" x2="175.40" y2="243.00" stroke="#0a0a0a" stroke-width="1.0"/>
<text x="170.4" y="246.4" font-size="9.4" text-anchor="end" stroke="none" fill="#0a0a0a">50</text>
<line x1="172.40" y1="211.75" x2="175.40" y2="211.75" stroke="#0a0a0a" stroke-width="1.0"/>
<text x="170.4" y="215.15" font-size="9.4" text-anchor="end" stroke="none" fill="#0a0a0a">60</text>
<line x1="175.40" y1="399.25" x2="175.40" y2="402.25" stroke="#0a0a0a" stroke-width="1.0"/>
<line x1="196.60" y1="399.25" x2="196.60" y2="402.25" stroke="#0a0a0a" stroke-width="1.0"/>
<line x1="217.80" y1="399.25" x2="217.80" y2="402.25" stroke="#0a0a0a" stroke-width="1.0"/>
<line x1="239.00" y1="399.25" x2="239.00" y2="402.25" stroke="#0a0a0a" stroke-width="1.0"/>
<line x1="260.20" y1="399.25" x2="260.20" y2="402.25" stroke="#0a0a0a" stroke-width="1.0"/>
<line x1="281.40" y1="399.25" x2="281.40" y2="402.25" stroke="#0a0a0a" stroke-width="1.0"/>
<text x="185.7" y="414.0" font-size="9.5" text-anchor="middle" stroke="none" fill="#0a0a0a">0.0</text>
<text x="206.89999999999998" y="414.0" font-size="9.5" text-anchor="middle" stroke="none" fill="#0a0a0a">0.6</text>
<text x="228.1" y="414.0" font-size="9.5" text-anchor="middle" stroke="none" fill="#0a0a0a">1.3</text>
<text x="249.3" y="414.0" font-size="9.5" text-anchor="middle" stroke="none" fill="#0a0a0a">2.5</text>
<text x="270.5" y="414.0" font-size="9.5" text-anchor="middle" stroke="none" fill="#0a0a0a">5.0</text>
<rect x="179.20" y="396.12" width="4.05" height="3.12" fill="#fff" stroke="#0a0a0a" stroke-width="0.8"/>
<rect x="184.05" y="396.12" width="4.05" height="3.12" fill="#fff"/>
<path d="M184.05 397.05L184.88 396.12L184.05 396.12Z" fill="#0a0a0a"/>
<rect x="184.05" y="396.12" width="4.05" height="3.12" fill="none" stroke="#0a0a0a" stroke-width="0.8"/>
<rect x="188.90" y="396.12" width="4.05" height="3.12" fill="#0a0a0a" stroke="#0a0a0a" stroke-width="0.8"/>
<line x1="202.43" y1="348.62" x2="202.43" y2="343.94" stroke="#0a0a0a" stroke-width="0.9"/>
<line x1="200.43" y1="343.94" x2="204.43" y2="343.94" stroke="#0a0a0a" stroke-width="1.2"/>
<rect x="200.40" y="348.62" width="4.05" height="50.62" fill="#fff" stroke="#0a0a0a" stroke-width="0.8"/>
<rect x="205.25" y="365.50" width="4.05" height="33.75" fill="#fff"/>
<path d="M205.25 397.05L209.30 392.55L209.30 388.65L205.25 393.15ZM205.25 389.05L209.30 384.55L209.30 380.65L205.25 385.15ZM205.25 381.05L209.30 376.55L209.30 372.65L205.25 377.15ZM205.25 373.05L209.30 368.55L209.30 365.50L208.54 365.50L205.25 369.15Z" fill="#0a0a0a"/>
<rect x="205.25" y="365.50" width="4.05" height="33.75" fill="none" stroke="#0a0a0a" stroke-width="0.8"/>
<line x1="212.12" y1="356.75" x2="212.12" y2="351.75" stroke="#0a0a0a" stroke-width="0.9"/>
<line x1="210.12" y1="351.75" x2="214.12" y2="351.75" stroke="#0a0a0a" stroke-width="1.2"/>
<rect x="210.10" y="356.75" width="4.05" height="42.50" fill="#0a0a0a" stroke="#0a0a0a" stroke-width="0.8"/>
<line x1="223.63" y1="342.06" x2="223.63" y2="340.50" stroke="#0a0a0a" stroke-width="0.9"/>
<line x1="221.63" y1="340.50" x2="225.63" y2="340.50" stroke="#0a0a0a" stroke-width="1.2"/>
<rect x="221.60" y="342.06" width="4.05" height="57.19" fill="#fff" stroke="#0a0a0a" stroke-width="0.8"/>
<line x1="227.58" y1="356.75" x2="227.58" y2="354.56" stroke="#444" stroke-width="0.6"/>
<line x1="229.38" y1="356.75" x2="229.38" y2="354.56" stroke="#444" stroke-width="0.6"/>
<line x1="226.48" y1="354.56" x2="230.48" y2="354.56" stroke="#0a0a0a" stroke-width="1.2"/>
<rect x="226.45" y="356.75" width="4.05" height="42.50" fill="#fff"/>
<path d="M226.45 397.05L230.50 392.55L230.50 388.65L226.45 393.15ZM226.45 389.05L230.50 384.55L230.50 380.65L226.45 385.15ZM226.45 381.05L230.50 376.55L230.50 372.65L226.45 377.15ZM226.45 373.05L230.50 368.55L230.50 364.65L226.45 369.15ZM226.45 365.05L230.50 360.55L230.50 356.75L230.41 356.75L226.45 361.15ZM226.45 357.05L226.72 356.75L226.45 356.75Z" fill="#0a0a0a"/>
<rect x="226.45" y="356.75" width="4.05" height="42.50" fill="none" stroke="#0a0a0a" stroke-width="0.8"/>
<line x1="233.33" y1="349.56" x2="233.33" y2="339.88" stroke="#0a0a0a" stroke-width="0.9"/>
<line x1="231.33" y1="339.88" x2="235.33" y2="339.88" stroke="#0a0a0a" stroke-width="1.2"/>
<rect x="231.30" y="349.56" width="4.05" height="49.69" fill="#0a0a0a" stroke="#0a0a0a" stroke-width="0.8"/>
<line x1="244.83" y1="301.12" x2="244.83" y2="300.19" stroke="#0a0a0a" stroke-width="0.9"/>
<line x1="242.83" y1="300.19" x2="246.83" y2="300.19" stroke="#0a0a0a" stroke-width="1.2"/>
<rect x="242.80" y="301.12" width="4.05" height="98.12" fill="#fff" stroke="#0a0a0a" stroke-width="0.8"/>
<line x1="248.78" y1="329.56" x2="248.78" y2="324.25" stroke="#444" stroke-width="0.6"/>
<line x1="250.58" y1="329.56" x2="250.58" y2="324.25" stroke="#444" stroke-width="0.6"/>
<line x1="247.68" y1="324.25" x2="251.68" y2="324.25" stroke="#0a0a0a" stroke-width="1.2"/>
<rect x="247.65" y="329.56" width="4.05" height="69.69" fill="#fff"/>
<path d="M247.65 397.05L251.70 392.55L251.70 388.65L247.65 393.15ZM247.65 389.05L251.70 384.55L251.70 380.65L247.65 385.15ZM247.65 381.05L251.70 376.55L251.70 372.65L247.65 377.15ZM247.65 373.05L251.70 368.55L251.70 364.65L247.65 369.15ZM247.65 365.05L251.70 360.55L251.70 356.65L247.65 361.15ZM247.65 357.05L251.70 352.55L251.70 348.65L247.65 353.15ZM247.65 349.05L251.70 344.55L251.70 340.65L247.65 345.15ZM247.65 341.05L251.70 336.55L251.70 332.65L247.65 337.15ZM247.65 333.05L250.79 329.56L247.65 329.56Z" fill="#0a0a0a"/>
<rect x="247.65" y="329.56" width="4.05" height="69.69" fill="none" stroke="#0a0a0a" stroke-width="0.8"/>
<line x1="254.53" y1="334.88" x2="254.53" y2="325.81" stroke="#0a0a0a" stroke-width="0.9"/>
<line x1="252.53" y1="325.81" x2="256.52" y2="325.81" stroke="#0a0a0a" stroke-width="1.2"/>
<rect x="252.50" y="334.88" width="4.05" height="64.38" fill="#0a0a0a" stroke="#0a0a0a" stroke-width="0.8"/>
<line x1="266.02" y1="229.25" x2="266.02" y2="210.75" stroke="#0a0a0a" stroke-width="0.9"/>
<rect x="264.00" y="229.25" width="4.05" height="170.00" fill="#fff" stroke="#0a0a0a" stroke-width="0.8"/>
<line x1="269.98" y1="268.62" x2="269.98" y2="257.38" stroke="#444" stroke-width="0.6"/>
<line x1="271.77" y1="268.62" x2="271.77" y2="257.38" stroke="#444" stroke-width="0.6"/>
<line x1="268.88" y1="257.38" x2="272.88" y2="257.38" stroke="#0a0a0a" stroke-width="1.2"/>
<rect x="268.85" y="268.62" width="4.05" height="130.62" fill="#fff"/>
<path d="M268.85 397.05L272.90 392.55L272.90 388.65L268.85 393.15ZM268.85 389.05L272.90 384.55L272.90 380.65L268.85 385.15ZM268.85 381.05L272.90 376.55L272.90 372.65L268.85 377.15ZM268.85 373.05L272.90 368.55L272.90 364.65L268.85 369.15ZM268.85 365.05L272.90 360.55L272.90 356.65L268.85 361.15ZM268.85 357.05L272.90 352.55L272.90 348.65L268.85 353.15ZM268.85 349.05L272.90 344.55L272.90 340.65L268.85 345.15ZM268.85 341.05L272.90 336.55L272.90 332.65L268.85 337.15ZM268.85 333.05L272.90 328.55L272.90 324.65L268.85 329.15ZM268.85 325.05L272.90 320.55L272.90 316.65L268.85 321.15ZM268.85 317.05L272.90 312.55L272.90 308.65L268.85 313.15ZM268.85 309.05L272.90 304.55L272.90 300.65L268.85 305.15ZM268.85 301.05L272.90 296.55L272.90 292.65L268.85 297.15ZM268.85 293.05L272.90 288.55L272.90 284.65L268.85 289.15ZM268.85 285.05L272.90 280.55L272.90 276.65L268.85 281.15ZM268.85 277.05L272.90 272.55L272.90 268.65L268.85 273.15ZM268.85 269.05L269.23 268.62L268.85 268.62Z" fill="#0a0a0a"/>
<rect x="268.85" y="268.62" width="4.05" height="130.62" fill="none" stroke="#0a0a0a" stroke-width="0.8"/>
<line x1="275.72" y1="271.12" x2="275.72" y2="254.25" stroke="#0a0a0a" stroke-width="0.9"/>
<line x1="273.72" y1="254.25" x2="277.72" y2="254.25" stroke="#0a0a0a" stroke-width="1.2"/>
<rect x="273.70" y="271.12" width="4.05" height="128.12" fill="#0a0a0a" stroke="#0a0a0a" stroke-width="0.8"/>
<text x="219.4" y="244.3" font-size="11" text-anchor="middle" font-weight="bold" stroke="none" fill="#000">HCT116</text>
<text x="223" y="278.6" font-size="11" text-anchor="middle" fill="#0a0a0a">WT p53</text>
<line x1="299.25" y1="218.25" x2="299.25" y2="401.50" stroke="#0a0a0a" stroke-width="1.0"/>
<line x1="296.25" y1="398.50" x2="394.75" y2="398.50" stroke="#0a0a0a" stroke-width="1.0"/>
<line x1="296.25" y1="398.50" x2="299.25" y2="398.50" stroke="#0a0a0a" stroke-width="1.0"/>
<text x="294.25" y="401.9" font-size="9.4" text-anchor="end" stroke="none" fill="#0a0a0a">0</text>
<line x1="296.25" y1="368.54" x2="299.25" y2="368.54" stroke="#0a0a0a" stroke-width="1.0"/>
<text x="294.25" y="371.94166666666666" font-size="9.4" text-anchor="end" stroke="none" fill="#0a0a0a">10</text>
<line x1="296.25" y1="338.58" x2="299.25" y2="338.58" stroke="#0a0a0a" stroke-width="1.0"/>
<text x="294.25" y="341.9833333333333" font-size="9.4" text-anchor="end" stroke="none" fill="#0a0a0a">20</text>
<line x1="296.25" y1="308.62" x2="299.25" y2="308.62" stroke="#0a0a0a" stroke-width="1.0"/>
<text x="294.25" y="312.025" font-size="9.4" text-anchor="end" stroke="none" fill="#0a0a0a">30</text>
<line x1="296.25" y1="278.67" x2="299.25" y2="278.67" stroke="#0a0a0a" stroke-width="1.0"/>
<text x="294.25" y="282.06666666666666" font-size="9.4" text-anchor="end" stroke="none" fill="#0a0a0a">40</text>
<line x1="296.25" y1="248.71" x2="299.25" y2="248.71" stroke="#0a0a0a" stroke-width="1.0"/>
<text x="294.25" y="252.10833333333335" font-size="9.4" text-anchor="end" stroke="none" fill="#0a0a0a">50</text>
<line x1="296.25" y1="218.75" x2="299.25" y2="218.75" stroke="#0a0a0a" stroke-width="1.0"/>
<text x="294.25" y="222.15" font-size="9.4" text-anchor="end" stroke="none" fill="#0a0a0a">60</text>
<line x1="299.25" y1="398.50" x2="299.25" y2="401.50" stroke="#0a0a0a" stroke-width="1.0"/>
<line x1="318.25" y1="398.50" x2="318.25" y2="401.50" stroke="#0a0a0a" stroke-width="1.0"/>
<line x1="337.25" y1="398.50" x2="337.25" y2="401.50" stroke="#0a0a0a" stroke-width="1.0"/>
<line x1="356.25" y1="398.50" x2="356.25" y2="401.50" stroke="#0a0a0a" stroke-width="1.0"/>
<line x1="375.25" y1="398.50" x2="375.25" y2="401.50" stroke="#0a0a0a" stroke-width="1.0"/>
<line x1="394.25" y1="398.50" x2="394.25" y2="401.50" stroke="#0a0a0a" stroke-width="1.0"/>
<text x="308.45" y="412.2" font-size="9.5" text-anchor="middle" stroke="none" fill="#0a0a0a">0.0</text>
<text x="327.45" y="412.2" font-size="9.5" text-anchor="middle" stroke="none" fill="#0a0a0a">0.6</text>
<text x="346.45" y="412.2" font-size="9.5" text-anchor="middle" stroke="none" fill="#0a0a0a">1.3</text>
<text x="365.45" y="412.2" font-size="9.5" text-anchor="middle" stroke="none" fill="#0a0a0a">2.5</text>
<text x="384.45" y="412.2" font-size="9.5" text-anchor="middle" stroke="none" fill="#0a0a0a">5.0</text>
<rect x="302.25" y="395.50" width="3.65" height="3.00" fill="#fff" stroke="#0a0a0a" stroke-width="0.8"/>
<rect x="306.70" y="395.50" width="3.65" height="3.00" fill="#fff"/>
<path d="M306.70 396.30L307.42 395.50L306.70 395.50Z" fill="#0a0a0a"/>
<rect x="306.70" y="395.50" width="3.65" height="3.00" fill="none" stroke="#0a0a0a" stroke-width="0.8"/>
<rect x="311.15" y="395.50" width="3.65" height="3.00" fill="#0a0a0a" stroke="#0a0a0a" stroke-width="0.8"/>
<rect x="321.25" y="396.40" width="3.65" height="2.10" fill="#fff" stroke="#0a0a0a" stroke-width="0.8"/>
<rect x="325.70" y="395.50" width="3.65" height="3.00" fill="#fff"/>
<path d="M325.70 396.30L326.42 395.50L325.70 395.50Z" fill="#0a0a0a"/>
<rect x="325.70" y="395.50" width="3.65" height="3.00" fill="none" stroke="#0a0a0a" stroke-width="0.8"/>
<rect x="330.15" y="394.01" width="3.65" height="4.49" fill="#0a0a0a" stroke="#0a0a0a" stroke-width="0.8"/>
<rect x="340.25" y="396.10" width="3.65" height="2.40" fill="#fff" stroke="#0a0a0a" stroke-width="0.8"/>
<rect x="344.70" y="394.90" width="3.65" height="3.60" fill="#fff"/>
<path d="M344.70 396.30L345.96 394.90L344.70 394.90Z" fill="#0a0a0a"/>
<rect x="344.70" y="394.90" width="3.65" height="3.60" fill="none" stroke="#0a0a0a" stroke-width="0.8"/>
<rect x="349.15" y="393.11" width="3.65" height="5.39" fill="#0a0a0a" stroke="#0a0a0a" stroke-width="0.8"/>
<rect x="359.25" y="396.10" width="3.65" height="2.40" fill="#fff" stroke="#0a0a0a" stroke-width="0.8"/>
<rect x="363.70" y="394.61" width="3.65" height="3.89" fill="#fff"/>
<path d="M363.70 396.30L365.23 394.61L363.70 394.61Z" fill="#0a0a0a"/>
<rect x="363.70" y="394.61" width="3.65" height="3.89" fill="none" stroke="#0a0a0a" stroke-width="0.8"/>
<rect x="368.15" y="391.31" width="3.65" height="7.19" fill="#0a0a0a" stroke="#0a0a0a" stroke-width="0.8"/>
<rect x="378.25" y="393.71" width="3.65" height="4.79" fill="#fff" stroke="#0a0a0a" stroke-width="0.8"/>
<rect x="382.70" y="392.51" width="3.65" height="5.99" fill="#fff"/>
<path d="M382.70 396.30L386.12 392.51L382.70 392.51Z" fill="#0a0a0a"/>
<rect x="382.70" y="392.51" width="3.65" height="5.99" fill="none" stroke="#0a0a0a" stroke-width="0.8"/>
<line x1="388.98" y1="382.92" x2="388.98" y2="379.63" stroke="#0a0a0a" stroke-width="0.9"/>
<line x1="386.98" y1="379.63" x2="390.98" y2="379.63" stroke="#0a0a0a" stroke-width="1.2"/>
<rect x="387.15" y="382.92" width="3.65" height="15.58" fill="#0a0a0a" stroke="#0a0a0a" stroke-width="0.8"/>
<text x="332.8" y="244.3" font-size="11" text-anchor="middle" font-weight="bold" stroke="none" fill="#000">SW480</text>
<text x="343.5" y="278.6" font-size="11" text-anchor="middle" fill="#0a0a0a">Mut p53</text>
<line x1="406.75" y1="219.00" x2="406.75" y2="399.40" stroke="#0a0a0a" stroke-width="1.0"/>
<line x1="403.75" y1="396.40" x2="496.75" y2="396.40" stroke="#0a0a0a" stroke-width="1.0"/>
<line x1="403.75" y1="396.40" x2="406.75" y2="396.40" stroke="#0a0a0a" stroke-width="1.0"/>
<text x="401.75" y="399.79999999999995" font-size="9.4" text-anchor="end" stroke="none" fill="#0a0a0a">0</text>
<line x1="403.75" y1="366.92" x2="406.75" y2="366.92" stroke="#0a0a0a" stroke-width="1.0"/>
<text x="401.75" y="370.3166666666666" font-size="9.4" text-anchor="end" stroke="none" fill="#0a0a0a">10</text>
<line x1="403.75" y1="337.43" x2="406.75" y2="337.43" stroke="#0a0a0a" stroke-width="1.0"/>
<text x="401.75" y="340.8333333333333" font-size="9.4" text-anchor="end" stroke="none" fill="#0a0a0a">20</text>
<line x1="403.75" y1="307.95" x2="406.75" y2="307.95" stroke="#0a0a0a" stroke-width="1.0"/>
<text x="401.75" y="311.34999999999997" font-size="9.4" text-anchor="end" stroke="none" fill="#0a0a0a">30</text>
<line x1="403.75" y1="278.47" x2="406.75" y2="278.47" stroke="#0a0a0a" stroke-width="1.0"/>
<text x="401.75" y="281.8666666666667" font-size="9.4" text-anchor="end" stroke="none" fill="#0a0a0a">40</text>
<line x1="403.75" y1="248.98" x2="406.75" y2="248.98" stroke="#0a0a0a" stroke-width="1.0"/>
<text x="401.75" y="252.38333333333335" font-size="9.4" text-anchor="end" stroke="none" fill="#0a0a0a">50</text>
<line x1="403.75" y1="219.50" x2="406.75" y2="219.50" stroke="#0a0a0a" stroke-width="1.0"/>
<text x="401.75" y="222.9" font-size="9.4" text-anchor="end" stroke="none" fill="#0a0a0a">60</text>
<line x1="406.75" y1="396.40" x2="406.75" y2="399.40" stroke="#0a0a0a" stroke-width="1.0"/>
<line x1="424.65" y1="396.40" x2="424.65" y2="399.40" stroke="#0a0a0a" stroke-width="1.0"/>
<line x1="442.55" y1="396.40" x2="442.55" y2="399.40" stroke="#0a0a0a" stroke-width="1.0"/>
<line x1="460.45" y1="396.40" x2="460.45" y2="399.40" stroke="#0a0a0a" stroke-width="1.0"/>
<line x1="478.35" y1="396.40" x2="478.35" y2="399.40" stroke="#0a0a0a" stroke-width="1.0"/>
<line x1="496.25" y1="396.40" x2="496.25" y2="399.40" stroke="#0a0a0a" stroke-width="1.0"/>
<text x="415.4" y="410.2" font-size="9.5" text-anchor="middle" stroke="none" fill="#0a0a0a">0.0</text>
<text x="433.3" y="410.2" font-size="9.5" text-anchor="middle" stroke="none" fill="#0a0a0a">0.6</text>
<text x="451.2" y="410.2" font-size="9.5" text-anchor="middle" stroke="none" fill="#0a0a0a">1.3</text>
<text x="469.09999999999997" y="410.2" font-size="9.5" text-anchor="middle" stroke="none" fill="#0a0a0a">2.5</text>
<text x="487.0" y="410.2" font-size="9.5" text-anchor="middle" stroke="none" fill="#0a0a0a">5.0</text>
<rect x="409.85" y="393.45" width="3.40" height="2.95" fill="#fff" stroke="#0a0a0a" stroke-width="0.8"/>
<rect x="414.05" y="393.45" width="3.40" height="2.95" fill="#fff"/>
<path d="M414.05 394.20L414.72 393.45L414.05 393.45Z" fill="#0a0a0a"/>
<rect x="414.05" y="393.45" width="3.40" height="2.95" fill="none" stroke="#0a0a0a" stroke-width="0.8"/>
<rect x="418.25" y="393.45" width="3.40" height="2.95" fill="#0a0a0a" stroke="#0a0a0a" stroke-width="0.8"/>
<rect x="427.75" y="394.04" width="3.40" height="2.36" fill="#fff" stroke="#0a0a0a" stroke-width="0.8"/>
<rect x="431.95" y="393.45" width="3.40" height="2.95" fill="#fff"/>
<path d="M431.95 394.20L432.62 393.45L431.95 393.45Z" fill="#0a0a0a"/>
<rect x="431.95" y="393.45" width="3.40" height="2.95" fill="none" stroke="#0a0a0a" stroke-width="0.8"/>
<rect x="436.15" y="393.45" width="3.40" height="2.95" fill="#0a0a0a" stroke="#0a0a0a" stroke-width="0.8"/>
<rect x="445.65" y="393.45" width="3.40" height="2.95" fill="#fff" stroke="#0a0a0a" stroke-width="0.8"/>
<rect x="449.85" y="391.68" width="3.40" height="4.72" fill="#fff"/>
<path d="M449.85 394.20L452.12 391.68L449.85 391.68Z" fill="#0a0a0a"/>
<rect x="449.85" y="391.68" width="3.40" height="4.72" fill="none" stroke="#0a0a0a" stroke-width="0.8"/>
<rect x="454.05" y="392.86" width="3.40" height="3.54" fill="#0a0a0a" stroke="#0a0a0a" stroke-width="0.8"/>
<rect x="463.55" y="392.57" width="3.40" height="3.83" fill="#fff" stroke="#0a0a0a" stroke-width="0.8"/>
<rect x="467.75" y="392.27" width="3.40" height="4.13" fill="#fff"/>
<path d="M467.75 394.20L469.49 392.27L467.75 392.27Z" fill="#0a0a0a"/>
<rect x="467.75" y="392.27" width="3.40" height="4.13" fill="none" stroke="#0a0a0a" stroke-width="0.8"/>
<rect x="471.95" y="391.39" width="3.40" height="5.01" fill="#0a0a0a" stroke="#0a0a0a" stroke-width="0.8"/>
<rect x="481.45" y="394.34" width="3.40" height="2.06" fill="#fff" stroke="#0a0a0a" stroke-width="0.8"/>
<rect x="485.65" y="394.04" width="3.40" height="2.36" fill="#fff"/>
<path d="M485.65 394.20L485.79 394.04L485.65 394.04Z" fill="#0a0a0a"/>
<rect x="485.65" y="394.04" width="3.40" height="2.36" fill="none" stroke="#0a0a0a" stroke-width="0.8"/>
<rect x="489.85" y="390.50" width="3.40" height="5.90" fill="#0a0a0a" stroke="#0a0a0a" stroke-width="0.8"/>
<text x="454.4" y="244.3" font-size="11" text-anchor="middle" font-weight="bold" stroke="none" fill="#000">MDA-MB-435</text>
<text x="451.6" y="278.6" font-size="11" text-anchor="middle" fill="#0a0a0a">Mut p53</text>
<text x="29.8" y="307" font-size="11" text-anchor="middle" transform="rotate(-90 29.8 307)" fill="#0a0a0a">mRNA (fold increase)</text>
<text x="292" y="430" font-size="11.1" text-anchor="middle" fill="#0a0a0a">RG7112 concentration (µmol/L)</text>
<rect x="432.30" y="333.00" width="5.60" height="5.60" fill="#fff" stroke="#0a0a0a" stroke-width="0.9"/>
<text x="440.6" y="339.8" font-size="11" text-anchor="start" fill="#0a0a0a">p21</text>
<rect x="432.30" y="349.40" width="5.60" height="5.60" fill="url(#hat)" stroke="#0a0a0a" stroke-width="0.9"/>
<text x="440.6" y="356.3" font-size="11" text-anchor="start" fill="#0a0a0a">MDM2</text>
<rect x="432.00" y="366.50" width="6.20" height="6.20" fill="#0a0a0a"/>
<text x="440.6" y="373.6" font-size="11" text-anchor="start" fill="#0a0a0a">Mic-1</text>
<line x1="70.75" y1="455.50" x2="70.75" y2="594.00" stroke="#0a0a0a" stroke-width="1.1"/>
<line x1="67.25" y1="590.50" x2="225.50" y2="590.50" stroke="#0a0a0a" stroke-width="1.1"/>
<line x1="67.25" y1="590.50" x2="70.75" y2="590.50" stroke="#0a0a0a" stroke-width="1.1"/>
<text x="62.05" y="594.1" font-size="10.4" text-anchor="end" fill="#0a0a0a">0</text>
<line x1="67.25" y1="565.80" x2="70.75" y2="565.80" stroke="#0a0a0a" stroke-width="1.1"/>
<text x="62.05" y="569.4" font-size="10.4" text-anchor="end" fill="#0a0a0a">20</text>
<line x1="67.25" y1="541.10" x2="70.75" y2="541.10" stroke="#0a0a0a" stroke-width="1.1"/>
<text x="62.05" y="544.7" font-size="10.4" text-anchor="end" fill="#0a0a0a">40</text>
<line x1="67.25" y1="516.40" x2="70.75" y2="516.40" stroke="#0a0a0a" stroke-width="1.1"/>
<text x="62.05" y="520.0" font-size="10.4" text-anchor="end" fill="#0a0a0a">60</text>
<line x1="67.25" y1="491.70" x2="70.75" y2="491.70" stroke="#0a0a0a" stroke-width="1.1"/>
<text x="62.05" y="495.3" font-size="10.4" text-anchor="end" fill="#0a0a0a">80</text>
<line x1="67.25" y1="467.00" x2="70.75" y2="467.00" stroke="#0a0a0a" stroke-width="1.1"/>
<text x="62.05" y="470.6" font-size="10.4" text-anchor="end" fill="#0a0a0a">100</text>
<line x1="70.75" y1="590.50" x2="70.75" y2="594.00" stroke="#0a0a0a" stroke-width="1.1"/>
<line x1="86.25" y1="590.50" x2="86.25" y2="592.50" stroke="#0a0a0a" stroke-width="0.7"/>
<line x1="95.32" y1="590.50" x2="95.32" y2="592.50" stroke="#0a0a0a" stroke-width="0.7"/>
<line x1="101.76" y1="590.50" x2="101.76" y2="592.50" stroke="#0a0a0a" stroke-width="0.7"/>
<line x1="106.75" y1="590.50" x2="106.75" y2="592.50" stroke="#0a0a0a" stroke-width="0.7"/>
<line x1="110.82" y1="590.50" x2="110.82" y2="592.50" stroke="#0a0a0a" stroke-width="0.7"/>
<line x1="114.27" y1="590.50" x2="114.27" y2="592.50" stroke="#0a0a0a" stroke-width="0.7"/>
<line x1="117.26" y1="590.50" x2="117.26" y2="592.50" stroke="#0a0a0a" stroke-width="0.7"/>
<line x1="119.89" y1="590.50" x2="119.89" y2="592.50" stroke="#0a0a0a" stroke-width="0.7"/>
<line x1="122.25" y1="590.50" x2="122.25" y2="594.00" stroke="#0a0a0a" stroke-width="1.1"/>
<line x1="137.75" y1="590.50" x2="137.75" y2="592.50" stroke="#0a0a0a" stroke-width="0.7"/>
<line x1="146.82" y1="590.50" x2="146.82" y2="592.50" stroke="#0a0a0a" stroke-width="0.7"/>
<line x1="153.26" y1="590.50" x2="153.26" y2="592.50" stroke="#0a0a0a" stroke-width="0.7"/>
<line x1="158.25" y1="590.50" x2="158.25" y2="592.50" stroke="#0a0a0a" stroke-width="0.7"/>
<line x1="162.32" y1="590.50" x2="162.32" y2="592.50" stroke="#0a0a0a" stroke-width="0.7"/>
<line x1="165.77" y1="590.50" x2="165.77" y2="592.50" stroke="#0a0a0a" stroke-width="0.7"/>
<line x1="168.76" y1="590.50" x2="168.76" y2="592.50" stroke="#0a0a0a" stroke-width="0.7"/>
<line x1="171.39" y1="590.50" x2="171.39" y2="592.50" stroke="#0a0a0a" stroke-width="0.7"/>
<line x1="173.75" y1="590.50" x2="173.75" y2="594.00" stroke="#0a0a0a" stroke-width="1.1"/>
<line x1="189.25" y1="590.50" x2="189.25" y2="592.50" stroke="#0a0a0a" stroke-width="0.7"/>
<line x1="198.32" y1="590.50" x2="198.32" y2="592.50" stroke="#0a0a0a" stroke-width="0.7"/>
<line x1="204.76" y1="590.50" x2="204.76" y2="592.50" stroke="#0a0a0a" stroke-width="0.7"/>
<line x1="209.75" y1="590.50" x2="209.75" y2="592.50" stroke="#0a0a0a" stroke-width="0.7"/>
<line x1="213.82" y1="590.50" x2="213.82" y2="592.50" stroke="#0a0a0a" stroke-width="0.7"/>
<line x1="217.27" y1="590.50" x2="217.27" y2="592.50" stroke="#0a0a0a" stroke-width="0.7"/>
<line x1="220.26" y1="590.50" x2="220.26" y2="592.50" stroke="#0a0a0a" stroke-width="0.7"/>
<line x1="222.89" y1="590.50" x2="222.89" y2="592.50" stroke="#0a0a0a" stroke-width="0.7"/>
<line x1="225.25" y1="590.50" x2="225.25" y2="594.00" stroke="#0a0a0a" stroke-width="1.1"/>
<text x="70.4" y="606.5" font-size="9.3" text-anchor="middle" stroke="none" fill="#0a0a0a">0.01</text>
<text x="122.2" y="606.5" font-size="9.3" text-anchor="middle" stroke="none" fill="#0a0a0a">0.1</text>
<text x="173.0" y="606.5" font-size="9.3" text-anchor="middle" stroke="none" fill="#0a0a0a">1</text>
<text x="224.9" y="606.5" font-size="9.3" text-anchor="middle" stroke="none" fill="#0a0a0a">10</text>
<text x="147.5" y="625.3" font-size="11.3" text-anchor="middle" fill="#0a0a0a">RG7112 concentration (µmol/L)</text>
<text x="40.6" y="522" font-size="11" text-anchor="middle" transform="rotate(-90 40.6 522)" fill="#0a0a0a">Cell viability (% of control)</text>
<path d="M77.50 467.37C81.57 467.37 93.77 467.37 101.90 467.37C110.03 467.37 118.17 467.37 126.30 467.37C134.43 467.37 142.57 467.37 150.70 467.37C158.83 467.37 166.97 467.43 175.10 467.37C183.23 467.31 191.37 458.21 199.50 467.00C207.63 475.79 219.83 511.25 223.90 520.11" fill="none" stroke="#0a0a0a" stroke-width="1.05"/>
<path d="M77.50 467.37C81.57 467.37 93.77 467.37 101.90 467.37C110.03 467.37 118.17 467.37 126.30 467.37C134.43 467.37 142.57 467.02 150.70 467.37C158.83 467.72 166.97 466.24 175.10 469.47C183.23 472.70 191.37 476.14 199.50 486.76C207.63 497.38 219.83 525.46 223.90 533.20" fill="none" stroke="#0a0a0a" stroke-width="1.05"/>
<path d="M77.50 471.94C83.19 474.25 90.51 479.23 101.90 481.82C113.29 484.41 114.91 478.99 126.30 483.06C137.69 487.12 139.31 479.52 150.70 499.23C162.09 518.94 163.71 548.68 175.10 567.53C186.49 586.38 188.11 575.94 199.50 580.00C210.89 584.07 218.21 583.79 223.90 584.94" fill="none" stroke="#0a0a0a" stroke-width="1.05"/>
<path d="M77.50 468.24C83.19 469.96 90.51 472.48 101.90 475.64C113.29 478.81 114.91 472.60 126.30 481.82C137.69 491.04 139.31 497.59 150.70 515.16C162.09 532.74 163.71 541.45 175.10 557.15C186.49 572.86 188.11 575.99 199.50 582.47C210.89 588.96 218.21 584.37 223.90 584.94" fill="none" stroke="#0a0a0a" stroke-width="1.05"/>
<path d="M77.50 468.24C83.19 468.64 90.51 466.07 101.90 469.96C113.29 473.85 114.91 470.15 126.30 484.91C137.69 499.66 139.31 511.44 150.70 533.20C162.09 554.95 163.71 565.76 175.10 578.15C186.49 590.54 188.11 584.23 199.50 586.30C210.89 588.38 218.21 586.87 223.90 587.04" fill="none" stroke="#0a0a0a" stroke-width="1.05"/>
<line x1="77.50" y1="462.43" x2="77.50" y2="472.31" stroke="#0a0a0a" stroke-width="1.0"/>
<line x1="75.10" y1="462.43" x2="79.90" y2="462.43" stroke="#0a0a0a" stroke-width="1.1"/>
<line x1="75.10" y1="472.31" x2="79.90" y2="472.31" stroke="#0a0a0a" stroke-width="1.1"/>
<line x1="101.90" y1="462.43" x2="101.90" y2="472.31" stroke="#0a0a0a" stroke-width="1.0"/>
<line x1="99.50" y1="462.43" x2="104.30" y2="462.43" stroke="#0a0a0a" stroke-width="1.1"/>
<line x1="99.50" y1="472.31" x2="104.30" y2="472.31" stroke="#0a0a0a" stroke-width="1.1"/>
<line x1="126.30" y1="462.43" x2="126.30" y2="472.31" stroke="#0a0a0a" stroke-width="1.0"/>
<line x1="123.90" y1="462.43" x2="128.70" y2="462.43" stroke="#0a0a0a" stroke-width="1.1"/>
<line x1="123.90" y1="472.31" x2="128.70" y2="472.31" stroke="#0a0a0a" stroke-width="1.1"/>
<line x1="150.70" y1="462.43" x2="150.70" y2="472.31" stroke="#0a0a0a" stroke-width="1.0"/>
<line x1="148.30" y1="462.43" x2="153.10" y2="462.43" stroke="#0a0a0a" stroke-width="1.1"/>
<line x1="148.30" y1="472.31" x2="153.10" y2="472.31" stroke="#0a0a0a" stroke-width="1.1"/>
<line x1="175.10" y1="462.43" x2="175.10" y2="472.31" stroke="#0a0a0a" stroke-width="1.0"/>
<line x1="172.70" y1="462.43" x2="177.50" y2="462.43" stroke="#0a0a0a" stroke-width="1.1"/>
<line x1="172.70" y1="472.31" x2="177.50" y2="472.31" stroke="#0a0a0a" stroke-width="1.1"/>
<line x1="199.50" y1="462.06" x2="199.50" y2="471.94" stroke="#0a0a0a" stroke-width="1.0"/>
<line x1="197.10" y1="462.06" x2="201.90" y2="462.06" stroke="#0a0a0a" stroke-width="1.1"/>
<line x1="197.10" y1="471.94" x2="201.90" y2="471.94" stroke="#0a0a0a" stroke-width="1.1"/>
<line x1="223.90" y1="516.40" x2="223.90" y2="523.81" stroke="#0a0a0a" stroke-width="1.0"/>
<line x1="221.50" y1="516.40" x2="226.30" y2="516.40" stroke="#0a0a0a" stroke-width="1.1"/>
<line x1="221.50" y1="523.81" x2="226.30" y2="523.81" stroke="#0a0a0a" stroke-width="1.1"/>
<path d="M77.50 463.58L81.30 470.41L73.70 470.41Z" fill="#a8a8a8" stroke="#0a0a0a" stroke-width="1.1" stroke-linejoin="miter"/>
<path d="M101.90 463.58L105.70 470.41L98.11 470.41Z" fill="#a8a8a8" stroke="#0a0a0a" stroke-width="1.1" stroke-linejoin="miter"/>
<path d="M126.30 463.58L130.09 470.41L122.50 470.41Z" fill="#a8a8a8" stroke="#0a0a0a" stroke-width="1.1" stroke-linejoin="miter"/>
<path d="M150.70 463.58L154.49 470.41L146.91 470.41Z" fill="#a8a8a8" stroke="#0a0a0a" stroke-width="1.1" stroke-linejoin="miter"/>
<path d="M175.10 463.58L178.89 470.41L171.31 470.41Z" fill="#a8a8a8" stroke="#0a0a0a" stroke-width="1.1" stroke-linejoin="miter"/>
<path d="M199.50 463.20L203.29 470.04L195.71 470.04Z" fill="#a8a8a8" stroke="#0a0a0a" stroke-width="1.1" stroke-linejoin="miter"/>
<path d="M223.90 516.31L227.69 523.14L220.10 523.14Z" fill="#a8a8a8" stroke="#0a0a0a" stroke-width="1.1" stroke-linejoin="miter"/>
<path d="M77.50 467.37C81.57 467.37 93.77 467.37 101.90 467.37C110.03 467.37 118.17 467.37 126.30 467.37C134.43 467.37 142.57 467.37 150.70 467.37C158.83 467.37 166.97 467.43 175.10 467.37C183.23 467.31 191.37 458.21 199.50 467.00C207.63 475.79 219.83 511.25 223.90 520.11" fill="none" stroke="#0a0a0a" stroke-width="0.9"/>
<line x1="77.50" y1="462.43" x2="77.50" y2="472.31" stroke="#333" stroke-width="0.8"/>
<line x1="101.90" y1="462.43" x2="101.90" y2="472.31" stroke="#333" stroke-width="0.8"/>
<line x1="126.30" y1="462.43" x2="126.30" y2="472.31" stroke="#333" stroke-width="0.8"/>
<line x1="150.70" y1="462.43" x2="150.70" y2="472.31" stroke="#333" stroke-width="0.8"/>
<line x1="175.10" y1="462.43" x2="175.10" y2="472.31" stroke="#333" stroke-width="0.8"/>
<line x1="199.50" y1="462.06" x2="199.50" y2="471.94" stroke="#333" stroke-width="0.8"/>
<line x1="223.90" y1="516.40" x2="223.90" y2="523.81" stroke="#333" stroke-width="0.8"/>
<line x1="77.50" y1="461.20" x2="77.50" y2="473.55" stroke="#0a0a0a" stroke-width="1.0"/>
<line x1="75.10" y1="461.20" x2="79.90" y2="461.20" stroke="#0a0a0a" stroke-width="1.1"/>
<line x1="75.10" y1="473.55" x2="79.90" y2="473.55" stroke="#0a0a0a" stroke-width="1.1"/>
<line x1="101.90" y1="461.20" x2="101.90" y2="473.55" stroke="#0a0a0a" stroke-width="1.0"/>
<line x1="99.50" y1="461.20" x2="104.30" y2="461.20" stroke="#0a0a0a" stroke-width="1.1"/>
<line x1="99.50" y1="473.55" x2="104.30" y2="473.55" stroke="#0a0a0a" stroke-width="1.1"/>
<line x1="126.30" y1="462.43" x2="126.30" y2="472.31" stroke="#0a0a0a" stroke-width="1.0"/>
<line x1="123.90" y1="462.43" x2="128.70" y2="462.43" stroke="#0a0a0a" stroke-width="1.1"/>
<line x1="123.90" y1="472.31" x2="128.70" y2="472.31" stroke="#0a0a0a" stroke-width="1.1"/>
<line x1="150.70" y1="462.43" x2="150.70" y2="472.31" stroke="#0a0a0a" stroke-width="1.0"/>
<line x1="148.30" y1="462.43" x2="153.10" y2="462.43" stroke="#0a0a0a" stroke-width="1.1"/>
<line x1="148.30" y1="472.31" x2="153.10" y2="472.31" stroke="#0a0a0a" stroke-width="1.1"/>
<line x1="175.10" y1="463.29" x2="175.10" y2="475.64" stroke="#0a0a0a" stroke-width="1.0"/>
<line x1="172.70" y1="463.29" x2="177.50" y2="463.29" stroke="#0a0a0a" stroke-width="1.1"/>
<line x1="172.70" y1="475.64" x2="177.50" y2="475.64" stroke="#0a0a0a" stroke-width="1.1"/>
<line x1="199.50" y1="481.82" x2="199.50" y2="491.70" stroke="#0a0a0a" stroke-width="1.0"/>
<line x1="197.10" y1="481.82" x2="201.90" y2="481.82" stroke="#0a0a0a" stroke-width="1.1"/>
<line x1="197.10" y1="491.70" x2="201.90" y2="491.70" stroke="#0a0a0a" stroke-width="1.1"/>
<line x1="223.90" y1="530.73" x2="223.90" y2="535.67" stroke="#0a0a0a" stroke-width="1.0"/>
<line x1="221.50" y1="530.73" x2="226.30" y2="530.73" stroke="#0a0a0a" stroke-width="1.1"/>
<line x1="221.50" y1="535.67" x2="226.30" y2="535.67" stroke="#0a0a0a" stroke-width="1.1"/>
<circle cx="77.50" cy="467.37" r="3.33" fill="#d0d0d0" stroke="#0a0a0a" stroke-width="1.1"/>
<circle cx="101.90" cy="467.37" r="3.33" fill="#d0d0d0" stroke="#0a0a0a" stroke-width="1.1"/>
<circle cx="126.30" cy="467.37" r="3.33" fill="#d0d0d0" stroke="#0a0a0a" stroke-width="1.1"/>
<circle cx="150.70" cy="467.37" r="3.33" fill="#d0d0d0" stroke="#0a0a0a" stroke-width="1.1"/>
<circle cx="175.10" cy="469.47" r="3.33" fill="#d0d0d0" stroke="#0a0a0a" stroke-width="1.1"/>
<circle cx="199.50" cy="486.76" r="3.33" fill="#d0d0d0" stroke="#0a0a0a" stroke-width="1.1"/>
<circle cx="223.90" cy="533.20" r="3.33" fill="#d0d0d0" stroke="#0a0a0a" stroke-width="1.1"/>
<path d="M77.50 467.37C81.57 467.37 93.77 467.37 101.90 467.37C110.03 467.37 118.17 467.37 126.30 467.37C134.43 467.37 142.57 467.02 150.70 467.37C158.83 467.72 166.97 466.24 175.10 469.47C183.23 472.70 191.37 476.14 199.50 486.76C207.63 497.38 219.83 525.46 223.90 533.20" fill="none" stroke="#0a0a0a" stroke-width="0.9"/>
<line x1="77.50" y1="461.20" x2="77.50" y2="473.55" stroke="#333" stroke-width="0.8"/>
<line x1="101.90" y1="461.20" x2="101.90" y2="473.55" stroke="#333" stroke-width="0.8"/>
<line x1="126.30" y1="462.43" x2="126.30" y2="472.31" stroke="#333" stroke-width="0.8"/>
<line x1="150.70" y1="462.43" x2="150.70" y2="472.31" stroke="#333" stroke-width="0.8"/>
<line x1="175.10" y1="463.29" x2="175.10" y2="475.64" stroke="#333" stroke-width="0.8"/>
<line x1="199.50" y1="481.82" x2="199.50" y2="491.70" stroke="#333" stroke-width="0.8"/>
<line x1="223.90" y1="530.73" x2="223.90" y2="535.67" stroke="#333" stroke-width="0.8"/>
<line x1="77.50" y1="467.00" x2="77.50" y2="476.88" stroke="#0a0a0a" stroke-width="1.0"/>
<line x1="75.10" y1="467.00" x2="79.90" y2="467.00" stroke="#0a0a0a" stroke-width="1.1"/>
<line x1="75.10" y1="476.88" x2="79.90" y2="476.88" stroke="#0a0a0a" stroke-width="1.1"/>
<line x1="101.90" y1="476.88" x2="101.90" y2="486.76" stroke="#0a0a0a" stroke-width="1.0"/>
<line x1="99.50" y1="476.88" x2="104.30" y2="476.88" stroke="#0a0a0a" stroke-width="1.1"/>
<line x1="99.50" y1="486.76" x2="104.30" y2="486.76" stroke="#0a0a0a" stroke-width="1.1"/>
<line x1="126.30" y1="478.12" x2="126.30" y2="488.00" stroke="#0a0a0a" stroke-width="1.0"/>
<line x1="123.90" y1="478.12" x2="128.70" y2="478.12" stroke="#0a0a0a" stroke-width="1.1"/>
<line x1="123.90" y1="488.00" x2="128.70" y2="488.00" stroke="#0a0a0a" stroke-width="1.1"/>
<line x1="150.70" y1="496.76" x2="150.70" y2="501.70" stroke="#0a0a0a" stroke-width="1.0"/>
<line x1="148.30" y1="496.76" x2="153.10" y2="496.76" stroke="#0a0a0a" stroke-width="1.1"/>
<line x1="148.30" y1="501.70" x2="153.10" y2="501.70" stroke="#0a0a0a" stroke-width="1.1"/>
<path d="M77.50 466.88L82.56 471.94L77.50 477.00L72.44 471.94Z" fill="#0a0a0a"/>
<path d="M101.90 476.76L106.96 481.82L101.90 486.88L96.84 481.82Z" fill="#0a0a0a"/>
<path d="M126.30 477.99L131.36 483.06L126.30 488.12L121.24 483.06Z" fill="#0a0a0a"/>
<path d="M150.70 494.17L155.76 499.23L150.70 504.30L145.64 499.23Z" fill="#0a0a0a"/>
<path d="M175.10 562.47L180.16 567.53L175.10 572.59L170.04 567.53Z" fill="#0a0a0a"/>
<path d="M199.50 574.94L204.56 580.00L199.50 585.07L194.44 580.00Z" fill="#0a0a0a"/>
<path d="M223.90 579.88L228.96 584.94L223.90 590.00L218.84 584.94Z" fill="#0a0a0a"/>
<line x1="77.50" y1="463.30" x2="77.50" y2="473.18" stroke="#0a0a0a" stroke-width="1.0"/>
<line x1="75.10" y1="463.30" x2="79.90" y2="463.30" stroke="#0a0a0a" stroke-width="1.1"/>
<line x1="75.10" y1="473.18" x2="79.90" y2="473.18" stroke="#0a0a0a" stroke-width="1.1"/>
<line x1="101.90" y1="470.70" x2="101.90" y2="480.58" stroke="#0a0a0a" stroke-width="1.0"/>
<line x1="99.50" y1="470.70" x2="104.30" y2="470.70" stroke="#0a0a0a" stroke-width="1.1"/>
<line x1="99.50" y1="480.58" x2="104.30" y2="480.58" stroke="#0a0a0a" stroke-width="1.1"/>
<line x1="126.30" y1="476.88" x2="126.30" y2="486.76" stroke="#0a0a0a" stroke-width="1.0"/>
<line x1="123.90" y1="476.88" x2="128.70" y2="476.88" stroke="#0a0a0a" stroke-width="1.1"/>
<line x1="123.90" y1="486.76" x2="128.70" y2="486.76" stroke="#0a0a0a" stroke-width="1.1"/>
<line x1="150.70" y1="512.69" x2="150.70" y2="517.63" stroke="#0a0a0a" stroke-width="1.0"/>
<line x1="148.30" y1="512.69" x2="153.10" y2="512.69" stroke="#0a0a0a" stroke-width="1.1"/>
<line x1="148.30" y1="517.63" x2="153.10" y2="517.63" stroke="#0a0a0a" stroke-width="1.1"/>
<line x1="175.10" y1="554.68" x2="175.10" y2="559.62" stroke="#0a0a0a" stroke-width="1.0"/>
<line x1="172.70" y1="554.68" x2="177.50" y2="554.68" stroke="#0a0a0a" stroke-width="1.1"/>
<line x1="172.70" y1="559.62" x2="177.50" y2="559.62" stroke="#0a0a0a" stroke-width="1.1"/>
<circle cx="77.50" cy="468.24" r="4.41" fill="#0a0a0a"/>
<circle cx="101.90" cy="475.64" r="4.41" fill="#0a0a0a"/>
<circle cx="126.30" cy="481.82" r="4.41" fill="#0a0a0a"/>
<circle cx="150.70" cy="515.16" r="4.41" fill="#0a0a0a"/>
<circle cx="175.10" cy="557.15" r="4.41" fill="#0a0a0a"/>
<circle cx="199.50" cy="582.47" r="4.41" fill="#0a0a0a"/>
<circle cx="223.90" cy="584.94" r="4.41" fill="#0a0a0a"/>
<line x1="77.50" y1="464.53" x2="77.50" y2="471.94" stroke="#0a0a0a" stroke-width="1.0"/>
<line x1="75.10" y1="464.53" x2="79.90" y2="464.53" stroke="#0a0a0a" stroke-width="1.1"/>
<line x1="75.10" y1="471.94" x2="79.90" y2="471.94" stroke="#0a0a0a" stroke-width="1.1"/>
<line x1="101.90" y1="466.26" x2="101.90" y2="473.67" stroke="#0a0a0a" stroke-width="1.0"/>
<line x1="99.50" y1="466.26" x2="104.30" y2="466.26" stroke="#0a0a0a" stroke-width="1.1"/>
<line x1="99.50" y1="473.67" x2="104.30" y2="473.67" stroke="#0a0a0a" stroke-width="1.1"/>
<line x1="126.30" y1="481.20" x2="126.30" y2="488.61" stroke="#0a0a0a" stroke-width="1.0"/>
<line x1="123.90" y1="481.20" x2="128.70" y2="481.20" stroke="#0a0a0a" stroke-width="1.1"/>
<line x1="123.90" y1="488.61" x2="128.70" y2="488.61" stroke="#0a0a0a" stroke-width="1.1"/>
<rect x="74.56" y="465.30" width="5.88" height="5.88" fill="#0a0a0a"/>
<rect x="98.96" y="467.02" width="5.88" height="5.88" fill="#0a0a0a"/>
<rect x="123.36" y="481.97" width="5.88" height="5.88" fill="#0a0a0a"/>
<rect x="147.76" y="530.26" width="5.88" height="5.88" fill="#0a0a0a"/>
<rect x="172.16" y="575.21" width="5.88" height="5.88" fill="#0a0a0a"/>
<rect x="196.56" y="583.36" width="5.88" height="5.88" fill="#0a0a0a"/>
<rect x="220.96" y="584.10" width="5.88" height="5.88" fill="#0a0a0a"/>
<circle cx="101.90" cy="467.49" r="3.94" fill="#0a0a0a"/>
<line x1="79.30" y1="522.00" x2="97.50" y2="522.00" stroke="#0a0a0a" stroke-width="1.1"/>
<path d="M88.80 517.12L93.67 522.00L88.80 526.88L83.92 522.00Z" fill="#0a0a0a"/>
<text x="99.4" y="526" font-size="11" text-anchor="start" fill="#0a0a0a">HCT116</text>
<line x1="79.30" y1="535.75" x2="97.50" y2="535.75" stroke="#0a0a0a" stroke-width="1.1"/>
<circle cx="88.80" cy="535.75" r="4.28" fill="#0a0a0a"/>
<text x="99.4" y="539.75" font-size="11" text-anchor="start" fill="#0a0a0a">RKO</text>
<line x1="79.30" y1="549.50" x2="97.50" y2="549.50" stroke="#0a0a0a" stroke-width="1.1"/>
<path d="M88.80 545.88L91.83 551.32L85.77 551.32Z" fill="#fff" stroke="#0a0a0a" stroke-width="1.1" stroke-linejoin="miter"/>
<line x1="84.00" y1="549.50" x2="94.00" y2="549.50" stroke="#0a0a0a" stroke-width="0.9"/>
<text x="99.4" y="553.5" font-size="11" text-anchor="start" fill="#0a0a0a">SW480</text>
<line x1="79.30" y1="563.20" x2="97.50" y2="563.20" stroke="#0a0a0a" stroke-width="1.1"/>
<circle cx="88.80" cy="563.20" r="2.61" fill="#fff" stroke="#0a0a0a" stroke-width="1.1"/>
<line x1="84.00" y1="563.20" x2="94.00" y2="563.20" stroke="#0a0a0a" stroke-width="0.9"/>
<text x="99.4" y="567.2" font-size="11" text-anchor="start" fill="#0a0a0a">MDA435MB</text>
<line x1="79.30" y1="576.80" x2="97.50" y2="576.80" stroke="#0a0a0a" stroke-width="1.1"/>
<rect x="86.14" y="574.14" width="5.32" height="5.32" fill="#0a0a0a"/>
<text x="99.4" y="580.8" font-size="11" text-anchor="start" fill="#0a0a0a">SJSA</text>
<text x="151.2" y="548.8" font-size="9.2" text-anchor="start" stroke="none" fill="#0a0a0a">WT p53</text>
<text x="202" y="548.8" font-size="9.2" text-anchor="start" stroke="none" fill="#0a0a0a">Mut p53</text>
<line x1="291.75" y1="466.30" x2="291.75" y2="590.75" stroke="#0a0a0a" stroke-width="1.0"/>
<line x1="288.75" y1="587.75" x2="498.00" y2="587.75" stroke="#0a0a0a" stroke-width="1.0"/>
<line x1="288.75" y1="587.75" x2="291.75" y2="587.75" stroke="#0a0a0a" stroke-width="1.0"/>
<text x="285.75" y="591.15" font-size="9.5" text-anchor="end" stroke="none" fill="#0a0a0a">0</text>
<line x1="288.75" y1="567.59" x2="291.75" y2="567.59" stroke="#0a0a0a" stroke-width="1.0"/>
<text x="285.75" y="570.99" font-size="9.5" text-anchor="end" stroke="none" fill="#0a0a0a">2</text>
<line x1="288.75" y1="547.43" x2="291.75" y2="547.43" stroke="#0a0a0a" stroke-width="1.0"/>
<text x="285.75" y="550.8299999999999" font-size="9.5" text-anchor="end" stroke="none" fill="#0a0a0a">4</text>
<line x1="288.75" y1="527.27" x2="291.75" y2="527.27" stroke="#0a0a0a" stroke-width="1.0"/>
<text x="285.75" y="530.67" font-size="9.5" text-anchor="end" stroke="none" fill="#0a0a0a">6</text>
<line x1="288.75" y1="507.11" x2="291.75" y2="507.11" stroke="#0a0a0a" stroke-width="1.0"/>
<text x="285.75" y="510.51" font-size="9.5" text-anchor="end" stroke="none" fill="#0a0a0a">8</text>
<line x1="288.75" y1="486.95" x2="291.75" y2="486.95" stroke="#0a0a0a" stroke-width="1.0"/>
<text x="285.75" y="490.34999999999997" font-size="9.5" text-anchor="end" stroke="none" fill="#0a0a0a">10</text>
<line x1="288.75" y1="466.79" x2="291.75" y2="466.79" stroke="#0a0a0a" stroke-width="1.0"/>
<text x="285.75" y="470.18999999999994" font-size="9.5" text-anchor="end" stroke="none" fill="#0a0a0a">12</text>
<rect x="295.00" y="584.73" width="4.25" height="3.02" fill="#000"/>
<text x="300.40000000000003" y="592.3" font-size="9.4" text-anchor="end" stroke="none" transform="rotate(-90 300.40000000000003 592.3)" fill="#0a0a0a">SJSA1</text>
<rect x="305.83" y="583.72" width="4.25" height="4.03" fill="#000"/>
<text x="311.23" y="592.3" font-size="9.4" text-anchor="end" stroke="none" transform="rotate(-90 311.23 592.3)" fill="#0a0a0a">MHM</text>
<rect x="316.66" y="571.12" width="4.25" height="16.63" fill="#000"/>
<text x="322.06000000000006" y="592.3" font-size="9.4" text-anchor="end" stroke="none" transform="rotate(-90 322.06000000000006 592.3)" fill="#0a0a0a">U2OS</text>
<rect x="327.49" y="584.22" width="4.25" height="3.53" fill="#000"/>
<text x="332.89000000000004" y="592.3" font-size="9.4" text-anchor="end" stroke="none" transform="rotate(-90 332.89000000000004 592.3)" fill="#0a0a0a">H460</text>
<rect x="338.32" y="575.65" width="4.25" height="12.10" fill="#000"/>
<text x="343.72" y="592.3" font-size="9.4" text-anchor="end" stroke="none" transform="rotate(-90 343.72 592.3)" fill="#0a0a0a">A549</text>
<rect x="349.15" y="578.17" width="4.25" height="9.58" fill="#000"/>
<text x="354.55" y="592.3" font-size="9.4" text-anchor="end" stroke="none" transform="rotate(-90 354.55 592.3)" fill="#0a0a0a">MCF7</text>
<rect x="359.98" y="586.24" width="4.25" height="1.51" fill="#000"/>
<text x="365.38000000000005" y="592.3" font-size="9.4" text-anchor="end" stroke="none" transform="rotate(-90 365.38000000000005 592.3)" fill="#0a0a0a">LnCaP</text>
<rect x="370.81" y="578.68" width="4.25" height="9.07" fill="#000"/>
<text x="376.21000000000004" y="592.3" font-size="9.4" text-anchor="end" stroke="none" transform="rotate(-90 376.21000000000004 592.3)" fill="#0a0a0a">22Rv1</text>
<rect x="381.64" y="576.26" width="4.25" height="11.49" fill="#000"/>
<text x="387.04" y="592.3" font-size="9.4" text-anchor="end" stroke="none" transform="rotate(-90 387.04 592.3)" fill="#0a0a0a">LOX</text>
<rect x="392.47" y="576.26" width="4.25" height="11.49" fill="#000"/>
<text x="397.87000000000006" y="592.3" font-size="9.4" text-anchor="end" stroke="none" transform="rotate(-90 397.87000000000006 592.3)" fill="#0a0a0a">SK-Mel-24</text>
<rect x="403.30" y="565.78" width="4.25" height="21.97" fill="#000"/>
<text x="408.70000000000005" y="592.3" font-size="9.4" text-anchor="end" stroke="none" transform="rotate(-90 408.70000000000005 592.3)" fill="#0a0a0a">LoVo</text>
<rect x="414.13" y="585.23" width="4.25" height="2.52" fill="#000"/>
<text x="419.53000000000003" y="592.3" font-size="9.4" text-anchor="end" stroke="none" transform="rotate(-90 419.53000000000003 592.3)" fill="#0a0a0a">A498</text>
<rect x="424.96" y="487.96" width="4.25" height="99.79" fill="#000"/>
<text x="430.36000000000007" y="592.3" font-size="9.4" text-anchor="end" stroke="none" transform="rotate(-90 430.36000000000007 592.3)" fill="#0a0a0a">MDA-MB-435</text>
<rect x="435.79" y="466.79" width="4.25" height="120.96" fill="#000"/>
<text x="441.19" y="592.3" font-size="9.4" text-anchor="end" stroke="none" transform="rotate(-90 441.19 592.3)" fill="#0a0a0a">SW480</text>
<rect x="446.62" y="484.23" width="4.25" height="103.52" fill="#000"/>
<text x="452.02000000000004" y="592.3" font-size="9.4" text-anchor="end" stroke="none" transform="rotate(-90 452.02000000000004 592.3)" fill="#0a0a0a">HT29</text>
<rect x="457.45" y="530.50" width="4.25" height="57.25" fill="#000"/>
<text x="462.85" y="592.3" font-size="9.4" text-anchor="end" stroke="none" transform="rotate(-90 462.85 592.3)" fill="#0a0a0a">DU145</text>
<rect x="468.28" y="485.94" width="4.25" height="101.81" fill="#000"/>
<text x="473.68" y="592.3" font-size="9.4" text-anchor="end" stroke="none" transform="rotate(-90 473.68 592.3)" fill="#0a0a0a">HeLa</text>
<rect x="479.11" y="466.79" width="4.25" height="120.96" fill="#000"/>
<text x="484.51000000000005" y="592.3" font-size="9.4" text-anchor="end" stroke="none" transform="rotate(-90 484.51000000000005 592.3)" fill="#0a0a0a">SK-Mel-2</text>
<rect x="489.94" y="466.79" width="4.25" height="120.96" fill="#000"/>
<text x="495.34000000000003" y="592.3" font-size="9.4" text-anchor="end" stroke="none" transform="rotate(-90 495.34000000000003 592.3)" fill="#0a0a0a">SK-Mel-28</text>
<line x1="299.20" y1="557.50" x2="419.50" y2="557.50" stroke="#0a0a0a" stroke-width="1.0"/>
<line x1="422.00" y1="460.50" x2="501.60" y2="460.50" stroke="#0a0a0a" stroke-width="1.0"/>
<text x="320.6" y="547.5" font-size="11.2" text-anchor="start" fill="#0a0a0a">Wild-type p53</text>
<text x="434.6" y="449.6" font-size="11.2" text-anchor="start" fill="#0a0a0a">Mutant p53</text>
<text x="265.6" y="526" font-size="11.2" text-anchor="middle" transform="rotate(-90 265.6 526)" fill="#0a0a0a">RG7112 EC50 (µmol/L)</text>
</svg></body></html>
